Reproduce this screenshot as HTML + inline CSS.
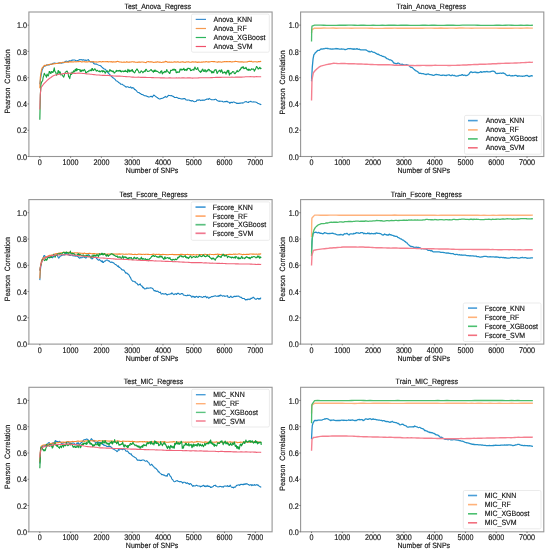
<!DOCTYPE html>
<html><head><meta charset="utf-8"><title>Regress</title>
<style>html,body{margin:0;padding:0;background:#fff;}svg{display:block;}
svg text{font-family:'Liberation Sans', Arial, sans-serif;font-size:7px;fill:#111111;stroke:#111111;stroke-width:0.14px;text-rendering:geometricPrecision;}
svg text.tk{font-size:7.2px;}</style></head>
<body>
<svg width="550" height="553" viewBox="0 0 550 553">
<rect width="550" height="553" fill="#fff"/>
<g><path d="M39.83,84.25 L39.86,84.02 L39.92,83.56 L40.01,82.87 L40.14,81.95 L40.29,80.80 L40.60,78.50 L41.37,73.82 L42.14,69.93 L42.91,68.18 L43.68,66.22 L44.45,66.20 L45.22,65.91 L45.99,65.65 L46.76,64.82 L47.52,64.99 L48.29,64.78 L49.06,64.91 L49.83,64.62 L50.60,64.19 L51.37,64.48 L52.14,63.81 L52.91,63.40 L53.68,63.23 L54.45,62.93 L55.22,63.28 L55.99,63.26 L56.76,63.51 L57.53,63.39 L58.30,62.98 L59.07,63.10 L59.84,63.04 L60.61,63.07 L61.38,63.10 L62.15,63.03 L62.92,62.69 L63.69,62.82 L64.46,62.37 L65.23,61.48 L66.00,61.16 L66.77,61.25 L67.53,61.53 L68.30,61.64 L69.07,60.76 L69.84,60.72 L70.61,60.91 L71.38,60.77 L72.15,59.94 L72.92,60.09 L73.69,59.99 L74.46,60.02 L75.23,60.27 L76.00,60.72 L76.77,60.73 L77.54,60.66 L78.31,60.30 L79.08,59.94 L79.85,59.63 L80.62,59.75 L81.39,59.62 L82.16,60.16 L82.93,59.80 L83.70,59.84 L84.47,60.18 L85.24,60.15 L86.01,60.35 L86.78,60.16 L87.55,59.94 L88.31,59.58 L89.08,60.72 L89.85,61.59 L90.62,61.90 L91.39,61.91 L92.16,61.70 L92.93,62.14 L93.70,63.47 L94.47,63.91 L95.24,63.94 L96.01,64.13 L96.78,64.15 L97.55,64.63 L98.32,65.04 L99.09,65.27 L99.86,65.43 L100.63,65.82 L101.40,66.52 L102.17,67.51 L102.94,68.01 L103.71,68.66 L104.48,68.94 L105.25,69.32 L106.02,70.23 L106.79,71.33 L107.56,72.43 L108.32,73.03 L109.09,73.81 L109.86,74.75 L110.63,75.49 L111.40,76.48 L112.17,76.90 L112.94,77.85 L113.71,78.12 L114.48,78.84 L115.25,79.50 L116.02,80.70 L116.79,81.09 L117.56,81.30 L118.33,82.22 L119.10,82.75 L119.87,83.15 L120.64,84.10 L121.41,84.22 L122.18,84.22 L122.95,84.98 L123.72,85.18 L124.49,86.06 L125.26,86.33 L126.03,87.17 L126.80,86.74 L127.57,86.78 L128.33,87.04 L129.10,87.59 L129.87,87.27 L130.64,86.87 L131.41,88.09 L132.18,87.86 L132.95,87.63 L133.72,88.13 L134.49,89.37 L135.26,89.63 L136.03,90.38 L136.80,91.22 L137.57,92.22 L138.34,92.42 L139.11,92.63 L139.88,93.46 L140.65,93.62 L141.42,94.46 L142.19,94.44 L142.96,94.82 L143.73,95.28 L144.50,95.69 L145.27,95.73 L146.04,95.91 L146.81,96.15 L147.58,96.54 L148.35,96.91 L149.11,97.06 L149.88,96.82 L150.65,96.41 L151.42,96.41 L152.19,97.12 L152.96,96.22 L153.73,95.08 L154.50,95.51 L155.27,96.15 L156.04,96.72 L156.81,97.24 L157.58,97.67 L158.35,98.52 L159.12,98.85 L159.89,99.02 L160.66,98.65 L161.43,98.57 L162.20,98.20 L162.97,98.16 L163.74,97.52 L164.51,97.29 L165.28,96.32 L166.05,97.10 L166.82,97.11 L167.59,96.46 L168.36,95.33 L169.12,95.51 L169.89,95.45 L170.66,95.69 L171.43,95.52 L172.20,96.08 L172.97,96.18 L173.74,96.70 L174.51,97.50 L175.28,97.54 L176.05,97.57 L176.82,97.37 L177.59,97.83 L178.36,98.42 L179.13,98.38 L179.90,98.53 L180.67,98.67 L181.44,98.95 L182.21,98.73 L182.98,98.93 L183.75,98.54 L184.52,98.62 L185.29,98.90 L186.06,100.00 L186.83,99.98 L187.60,100.09 L188.37,100.07 L189.13,100.02 L189.90,100.58 L190.67,100.56 L191.44,101.12 L192.21,100.54 L192.98,101.08 L193.75,101.55 L194.52,101.78 L195.29,101.58 L196.06,101.47 L196.83,100.16 L197.60,100.04 L198.37,100.27 L199.14,99.75 L199.91,100.08 L200.68,100.59 L201.45,100.19 L202.22,100.05 L202.99,100.38 L203.76,99.95 L204.53,100.17 L205.30,99.77 L206.07,99.58 L206.84,98.97 L207.61,99.01 L208.38,99.46 L209.15,98.35 L209.91,98.94 L210.68,99.25 L211.45,99.67 L212.22,99.81 L212.99,99.76 L213.76,99.76 L214.53,99.62 L215.30,99.12 L216.07,99.51 L216.84,100.22 L217.61,100.73 L218.38,100.93 L219.15,101.50 L219.92,101.00 L220.69,101.18 L221.46,101.27 L222.23,101.26 L223.00,101.80 L223.77,102.02 L224.54,101.63 L225.31,101.42 L226.08,101.70 L226.85,101.09 L227.62,101.87 L228.39,102.09 L229.16,102.23 L229.92,103.33 L230.69,102.36 L231.46,102.29 L232.23,102.80 L233.00,102.02 L233.77,102.06 L234.54,102.17 L235.31,102.67 L236.08,102.79 L236.85,103.51 L237.62,103.17 L238.39,103.40 L239.16,103.40 L239.93,103.04 L240.70,103.15 L241.47,103.04 L242.24,102.88 L243.01,103.10 L243.78,102.61 L244.55,101.95 L245.32,101.73 L246.09,101.48 L246.86,101.91 L247.63,102.16 L248.40,102.50 L249.17,101.68 L249.93,101.69 L250.70,101.24 L251.47,101.77 L252.24,102.04 L253.01,102.06 L253.78,101.79 L254.55,101.95 L255.32,102.04 L256.09,102.20 L256.86,102.49 L257.63,103.29 L258.40,103.49 L259.17,103.83 L259.94,104.11 L260.71,104.37 L261.17,104.94" fill="none" stroke="#1a82c2" stroke-width="1.1" stroke-linejoin="round" stroke-linecap="butt"/><path d="M39.83,88.19 L39.86,87.49 L39.92,86.09 L40.01,83.99 L40.14,81.18 L40.29,77.68 L40.60,75.26 L41.37,70.73 L42.14,67.89 L42.91,67.23 L43.68,66.29 L44.45,65.38 L45.22,65.36 L45.99,65.46 L46.76,65.11 L47.52,65.04 L48.29,64.80 L49.06,64.35 L49.83,64.45 L50.60,64.30 L51.37,64.31 L52.14,64.12 L52.91,63.88 L53.68,63.92 L54.45,63.76 L55.22,63.59 L55.99,63.52 L56.76,63.55 L57.53,63.57 L58.30,63.30 L59.07,63.13 L59.84,62.55 L60.61,63.06 L61.38,62.81 L62.15,62.59 L62.92,62.25 L63.69,62.19 L64.46,62.36 L65.23,62.29 L66.00,62.13 L66.77,62.18 L67.53,61.98 L68.30,62.34 L69.07,61.85 L69.84,61.65 L70.61,61.86 L71.38,61.78 L72.15,61.83 L72.92,62.00 L73.69,61.91 L74.46,61.68 L75.23,61.80 L76.00,61.85 L76.77,61.81 L77.54,61.68 L78.31,61.45 L79.08,61.67 L79.85,61.56 L80.62,61.57 L81.39,61.96 L82.16,61.89 L82.93,61.81 L83.70,61.75 L84.47,61.66 L85.24,62.05 L86.01,61.86 L86.78,61.91 L87.55,62.07 L88.31,61.79 L89.08,61.62 L89.85,61.79 L90.62,61.60 L91.39,61.74 L92.16,61.72 L92.93,61.93 L93.70,61.55 L94.47,62.13 L95.24,61.96 L96.01,61.73 L96.78,62.12 L97.55,61.98 L98.32,61.89 L99.09,61.68 L99.86,61.51 L100.63,61.72 L101.40,62.01 L102.17,61.65 L102.94,61.51 L103.71,61.75 L104.48,61.72 L105.25,61.70 L106.02,61.66 L106.79,61.71 L107.56,61.52 L108.32,62.00 L109.09,61.74 L109.86,61.73 L110.63,61.84 L111.40,61.65 L112.17,62.19 L112.94,61.83 L113.71,61.79 L114.48,62.06 L115.25,61.90 L116.02,61.97 L116.79,61.48 L117.56,61.37 L118.33,61.57 L119.10,61.89 L119.87,62.03 L120.64,62.05 L121.41,62.11 L122.18,62.20 L122.95,62.20 L123.72,62.14 L124.49,62.16 L125.26,62.21 L126.03,62.27 L126.80,61.68 L127.57,62.12 L128.33,62.26 L129.10,62.06 L129.87,62.11 L130.64,62.00 L131.41,61.88 L132.18,61.74 L132.95,61.76 L133.72,62.09 L134.49,61.87 L135.26,62.29 L136.03,62.20 L136.80,62.23 L137.57,62.34 L138.34,62.10 L139.11,62.13 L139.88,61.92 L140.65,62.27 L141.42,62.03 L142.19,61.97 L142.96,62.01 L143.73,62.32 L144.50,62.26 L145.27,62.46 L146.04,62.67 L146.81,61.79 L147.58,61.78 L148.35,61.62 L149.11,61.95 L149.88,61.91 L150.65,61.90 L151.42,61.91 L152.19,62.02 L152.96,62.12 L153.73,62.51 L154.50,62.22 L155.27,62.11 L156.04,61.93 L156.81,62.09 L157.58,61.81 L158.35,62.07 L159.12,62.35 L159.89,62.09 L160.66,62.22 L161.43,62.43 L162.20,62.28 L162.97,62.09 L163.74,62.09 L164.51,62.04 L165.28,61.36 L166.05,61.61 L166.82,61.61 L167.59,62.24 L168.36,62.13 L169.12,62.00 L169.89,62.14 L170.66,62.30 L171.43,62.15 L172.20,62.20 L172.97,62.28 L173.74,61.99 L174.51,61.82 L175.28,61.92 L176.05,62.10 L176.82,62.02 L177.59,61.91 L178.36,61.90 L179.13,62.27 L179.90,62.25 L180.67,62.11 L181.44,61.99 L182.21,61.87 L182.98,61.84 L183.75,62.17 L184.52,62.26 L185.29,62.39 L186.06,61.91 L186.83,61.96 L187.60,61.91 L188.37,61.80 L189.13,61.99 L189.90,62.24 L190.67,62.23 L191.44,62.17 L192.21,61.84 L192.98,61.79 L193.75,62.11 L194.52,61.95 L195.29,61.85 L196.06,62.12 L196.83,62.08 L197.60,62.37 L198.37,62.12 L199.14,62.10 L199.91,62.28 L200.68,62.24 L201.45,62.05 L202.22,62.09 L202.99,61.95 L203.76,61.83 L204.53,62.02 L205.30,62.01 L206.07,61.56 L206.84,61.69 L207.61,61.93 L208.38,61.88 L209.15,62.11 L209.91,61.76 L210.68,61.73 L211.45,61.57 L212.22,61.52 L212.99,61.59 L213.76,61.51 L214.53,61.61 L215.30,61.81 L216.07,61.97 L216.84,61.94 L217.61,62.29 L218.38,61.68 L219.15,62.01 L219.92,61.87 L220.69,62.02 L221.46,62.22 L222.23,61.96 L223.00,61.87 L223.77,61.79 L224.54,61.62 L225.31,61.75 L226.08,61.63 L226.85,61.55 L227.62,61.66 L228.39,61.71 L229.16,61.59 L229.92,61.61 L230.69,61.60 L231.46,62.06 L232.23,61.85 L233.00,61.68 L233.77,61.69 L234.54,61.61 L235.31,61.29 L236.08,61.46 L236.85,61.43 L237.62,61.70 L238.39,61.83 L239.16,61.83 L239.93,61.93 L240.70,61.79 L241.47,61.89 L242.24,61.81 L243.01,61.99 L243.78,62.12 L244.55,62.01 L245.32,62.03 L246.09,61.96 L246.86,61.92 L247.63,61.85 L248.40,61.56 L249.17,61.36 L249.93,61.38 L250.70,61.58 L251.47,61.35 L252.24,61.78 L253.01,62.09 L253.78,61.82 L254.55,61.74 L255.32,61.72 L256.09,61.68 L256.86,61.97 L257.63,62.02 L258.40,61.61 L259.17,61.45 L259.94,61.68 L260.71,61.32 L261.17,61.68" fill="none" stroke="#f5862c" stroke-width="1.1" stroke-linejoin="round" stroke-linecap="butt"/><path d="M39.83,119.72 L39.86,118.30 L39.92,115.46 L40.01,111.21 L40.14,105.53 L40.29,98.44 L40.38,94.18 L40.94,84.59 L41.49,82.43 L42.05,81.20 L42.60,81.03 L43.15,77.40 L43.71,75.66 L44.26,73.33 L44.82,74.38 L45.37,75.34 L45.92,75.79 L46.48,77.27 L47.03,74.02 L47.59,75.27 L48.14,75.96 L48.69,74.71 L49.25,71.45 L49.80,71.52 L50.36,73.28 L50.91,73.55 L51.47,71.57 L52.02,71.60 L52.57,72.53 L53.13,72.18 L53.68,70.52 L54.24,67.83 L54.79,71.20 L55.34,71.94 L55.90,72.52 L56.45,75.16 L57.01,74.23 L57.56,73.87 L58.11,70.47 L58.67,70.88 L59.22,73.54 L59.78,71.69 L60.33,72.43 L60.89,75.03 L61.44,74.79 L61.99,74.70 L62.55,75.19 L63.10,76.45 L63.66,77.18 L64.21,75.85 L64.76,73.40 L65.32,72.51 L65.87,71.80 L66.43,71.53 L66.98,70.96 L67.53,71.85 L68.09,73.50 L68.64,76.94 L69.20,76.82 L69.75,78.72 L70.31,75.30 L70.86,73.18 L71.41,74.41 L71.97,72.12 L72.52,73.64 L73.08,72.23 L73.63,70.82 L74.18,71.91 L74.74,71.06 L75.29,69.24 L75.85,71.01 L76.40,68.64 L76.96,70.63 L77.51,69.10 L78.06,69.49 L78.62,69.49 L79.17,69.50 L79.73,69.85 L80.28,71.50 L80.83,69.77 L81.39,71.39 L81.94,70.72 L82.50,70.03 L83.05,70.99 L83.60,70.57 L84.16,69.42 L84.71,69.92 L85.27,70.95 L85.82,73.30 L86.38,72.70 L86.93,72.04 L87.48,71.64 L88.04,71.83 L88.59,70.70 L89.15,70.99 L89.70,70.71 L90.25,69.84 L90.81,70.79 L91.36,70.75 L91.92,68.49 L92.47,68.52 L93.02,70.49 L93.58,70.37 L94.13,69.71 L94.69,68.76 L95.24,69.27 L95.80,70.30 L96.35,71.08 L96.90,70.29 L97.46,70.28 L98.01,71.10 L98.57,71.29 L99.12,71.67 L99.67,70.90 L100.23,71.88 L100.78,71.37 L101.34,70.86 L101.89,70.83 L102.44,71.97 L103.00,70.53 L103.55,71.62 L104.11,71.14 L104.66,71.93 L105.22,73.21 L105.77,72.02 L106.32,71.34 L106.88,71.30 L107.43,70.93 L107.99,71.62 L108.54,72.06 L109.09,71.77 L109.65,69.74 L110.20,69.73 L110.76,70.95 L111.31,70.58 L111.87,71.35 L112.42,71.73 L112.97,70.72 L113.53,71.49 L114.08,72.93 L114.64,72.95 L115.19,72.07 L115.74,71.60 L116.30,70.36 L116.85,71.52 L117.41,70.76 L117.96,70.65 L118.51,71.11 L119.07,70.43 L119.62,70.40 L120.18,71.61 L120.73,70.44 L121.29,71.93 L121.84,71.50 L122.39,71.33 L122.95,70.85 L123.50,71.65 L124.06,71.41 L124.61,71.38 L125.16,70.32 L125.72,71.41 L126.27,71.16 L126.83,71.32 L127.38,72.34 L127.93,69.22 L128.49,70.16 L129.04,71.90 L129.60,70.13 L130.15,71.49 L130.71,70.85 L131.26,70.07 L131.81,71.05 L132.37,69.53 L132.92,71.60 L133.48,71.36 L134.03,72.60 L134.58,72.88 L135.14,72.02 L135.69,70.53 L136.25,70.15 L136.80,68.97 L137.35,69.33 L137.91,70.61 L138.46,70.90 L139.02,72.79 L139.57,72.76 L140.13,72.81 L140.68,71.66 L141.23,70.75 L141.79,71.40 L142.34,71.75 L142.90,72.80 L143.45,72.04 L144.00,71.33 L144.56,70.79 L145.11,71.65 L145.67,69.56 L146.22,69.24 L146.78,70.26 L147.33,71.17 L147.88,71.47 L148.44,71.23 L148.99,71.29 L149.55,70.90 L150.10,70.47 L150.65,69.74 L151.21,69.61 L151.76,70.71 L152.32,70.84 L152.87,71.64 L153.42,72.25 L153.98,70.32 L154.53,71.53 L155.09,69.94 L155.64,71.31 L156.20,71.47 L156.75,70.82 L157.30,71.49 L157.86,71.52 L158.41,72.15 L158.97,72.70 L159.52,72.72 L160.07,73.19 L160.63,71.32 L161.18,72.03 L161.74,70.66 L162.29,73.99 L162.84,73.19 L163.40,72.30 L163.95,72.63 L164.51,71.53 L165.06,71.40 L165.62,72.16 L166.17,71.90 L166.72,69.60 L167.28,70.79 L167.83,71.33 L168.39,72.28 L168.94,72.23 L169.49,73.46 L170.05,73.04 L170.60,70.38 L171.16,70.29 L171.71,70.59 L172.26,70.30 L172.82,69.41 L173.37,70.10 L173.93,69.08 L174.48,69.44 L175.04,70.42 L175.59,69.46 L176.14,72.66 L176.70,72.60 L177.25,71.78 L177.81,72.41 L178.36,72.00 L178.91,72.15 L179.47,72.18 L180.02,69.07 L180.58,69.36 L181.13,70.06 L181.69,69.11 L182.24,69.99 L182.79,69.34 L183.35,69.45 L183.90,68.28 L184.46,70.41 L185.01,69.43 L185.56,69.46 L186.12,70.59 L186.67,69.07 L187.23,70.01 L187.78,68.20 L188.33,68.37 L188.89,68.31 L189.44,68.85 L190.00,68.38 L190.55,70.69 L191.11,70.09 L191.66,70.44 L192.21,69.80 L192.77,69.80 L193.32,69.21 L193.88,70.25 L194.43,68.35 L194.98,66.98 L195.54,68.61 L196.09,69.26 L196.65,69.33 L197.20,68.49 L197.75,67.51 L198.31,69.85 L198.86,70.51 L199.42,71.25 L199.97,71.69 L200.53,72.39 L201.08,70.93 L201.63,71.60 L202.19,69.52 L202.74,69.04 L203.30,70.57 L203.85,71.35 L204.40,71.37 L204.96,69.56 L205.51,70.72 L206.07,71.89 L206.62,71.18 L207.17,70.45 L207.73,71.03 L208.28,69.26 L208.84,69.65 L209.39,69.67 L209.95,70.90 L210.50,70.80 L211.05,70.87 L211.61,72.86 L212.16,71.55 L212.72,72.81 L213.27,71.86 L213.82,72.72 L214.38,70.00 L214.93,70.20 L215.49,69.84 L216.04,69.63 L216.59,71.59 L217.15,73.47 L217.70,72.65 L218.26,71.15 L218.81,71.16 L219.37,70.55 L219.92,70.14 L220.47,72.16 L221.03,71.58 L221.58,69.78 L222.14,71.22 L222.69,73.29 L223.24,72.71 L223.80,72.65 L224.35,71.85 L224.91,72.68 L225.46,72.26 L226.02,74.18 L226.57,72.39 L227.12,70.87 L227.68,70.42 L228.23,72.79 L228.79,70.34 L229.34,75.17 L229.89,73.66 L230.45,73.25 L231.00,73.84 L231.56,72.83 L232.11,72.47 L232.66,71.51 L233.22,71.72 L233.77,71.68 L234.33,73.60 L234.88,73.80 L235.44,73.22 L235.99,72.19 L236.54,71.90 L237.10,70.33 L237.65,71.66 L238.21,71.71 L238.76,70.95 L239.31,70.69 L239.87,69.63 L240.42,69.82 L240.98,67.84 L241.53,68.18 L242.08,67.08 L242.64,67.70 L243.19,66.63 L243.75,68.73 L244.30,68.05 L244.86,68.58 L245.41,68.25 L245.96,67.21 L246.52,68.83 L247.07,69.81 L247.63,70.01 L248.18,68.98 L248.73,70.42 L249.29,69.34 L249.84,70.07 L250.40,70.31 L250.95,69.74 L251.50,68.77 L252.06,69.22 L252.61,69.32 L253.17,68.97 L253.72,69.02 L254.28,71.23 L254.83,70.30 L255.38,69.38 L255.94,68.00 L256.49,66.46 L257.05,66.95 L257.60,67.74 L258.15,69.09 L258.71,68.81 L259.26,68.05 L259.82,67.24 L260.37,68.79 L260.93,68.56 L261.17,67.92" fill="none" stroke="#14a03c" stroke-width="1.1" stroke-linejoin="round" stroke-linecap="butt"/><path d="M39.83,109.47 L39.86,108.26 L39.92,105.85 L40.01,102.22 L40.14,97.39 L40.29,94.32 L41.06,87.68 L42.29,85.93 L43.52,84.24 L44.75,82.89 L45.99,81.58 L47.22,80.36 L48.45,79.23 L49.68,78.30 L50.91,77.47 L52.14,76.50 L53.37,75.79 L54.61,75.33 L55.84,74.99 L57.07,74.69 L58.30,74.45 L59.53,74.13 L60.76,73.99 L61.99,73.95 L63.23,73.63 L64.46,73.54 L65.69,73.34 L66.92,73.37 L68.15,73.14 L69.38,73.25 L70.61,73.28 L71.84,73.21 L73.08,73.21 L74.31,73.37 L75.54,73.37 L76.77,73.24 L78.00,73.08 L79.23,73.09 L80.46,73.17 L81.70,73.19 L82.93,73.45 L84.16,73.53 L85.39,73.77 L86.62,73.87 L87.85,73.99 L89.08,74.06 L90.32,74.24 L91.55,74.30 L92.78,74.49 L94.01,74.58 L95.24,74.70 L96.47,74.95 L97.70,74.98 L98.94,75.03 L100.17,75.15 L101.40,75.19 L102.63,75.35 L103.86,75.33 L105.09,75.37 L106.32,75.43 L107.56,75.36 L108.79,75.50 L110.02,75.63 L111.25,75.79 L112.48,75.83 L113.71,75.98 L114.94,75.94 L116.17,76.08 L117.41,76.14 L118.64,76.08 L119.87,76.14 L121.10,76.27 L122.33,76.30 L123.56,76.44 L124.79,76.50 L126.03,76.61 L127.26,76.77 L128.49,76.79 L129.72,76.81 L130.95,76.94 L132.18,77.09 L133.41,77.13 L134.65,77.30 L135.88,77.28 L137.11,77.32 L138.34,77.14 L139.57,77.25 L140.80,77.39 L142.03,77.31 L143.27,77.37 L144.50,77.39 L145.73,77.42 L146.96,77.45 L148.19,77.52 L149.42,77.48 L150.65,77.51 L151.89,77.62 L153.12,77.66 L154.35,77.76 L155.58,77.74 L156.81,77.72 L158.04,77.73 L159.27,77.76 L160.51,77.84 L161.74,77.79 L162.97,77.90 L164.20,77.92 L165.43,77.95 L166.66,77.94 L167.89,77.96 L169.12,77.81 L170.36,77.85 L171.59,78.01 L172.82,78.01 L174.05,78.07 L175.28,77.95 L176.51,77.85 L177.74,77.93 L178.98,77.90 L180.21,77.93 L181.44,77.91 L182.67,77.81 L183.90,77.90 L185.13,78.01 L186.36,77.93 L187.60,77.90 L188.83,77.88 L190.06,77.84 L191.29,77.94 L192.52,78.08 L193.75,77.94 L194.98,77.94 L196.22,77.99 L197.45,77.99 L198.68,77.83 L199.91,77.79 L201.14,77.76 L202.37,77.69 L203.60,77.74 L204.84,77.79 L206.07,77.78 L207.30,77.78 L208.53,77.71 L209.76,77.70 L210.99,77.63 L212.22,77.61 L213.45,77.56 L214.69,77.47 L215.92,77.36 L217.15,77.28 L218.38,77.33 L219.61,77.33 L220.84,77.37 L222.07,77.27 L223.31,77.18 L224.54,77.26 L225.77,77.20 L227.00,77.23 L228.23,77.23 L229.46,77.19 L230.69,77.20 L231.93,77.11 L233.16,77.21 L234.39,77.20 L235.62,77.14 L236.85,77.16 L238.08,77.07 L239.31,77.14 L240.55,77.05 L241.78,77.10 L243.01,77.03 L244.24,76.94 L245.47,76.76 L246.70,76.74 L247.93,76.68 L249.17,76.75 L250.40,76.63 L251.63,76.72 L252.86,76.76 L254.09,76.83 L255.32,76.76 L256.55,76.65 L257.79,76.70 L259.02,76.70 L260.25,76.70 L261.17,76.68" fill="none" stroke="#f0647a" stroke-width="1.1" stroke-linejoin="round" stroke-linecap="butt"/><rect x="191.5" y="14.1" width="77.80" height="38.10" rx="1.5" fill="#fff" fill-opacity="0.85" stroke="#e6e6e6" stroke-width="0.8"/><line x1="195.7" y1="19.4" x2="206.0" y2="19.4" stroke="#3d8fd0" stroke-width="1.2"/><text transform="translate(213.60,21.90) scale(1,1.1)">Anova_KNN</text><line x1="195.7" y1="28.5" x2="206.0" y2="28.5" stroke="#f59a50" stroke-width="1.2"/><text transform="translate(213.60,31.00) scale(1,1.1)">Anova_RF</text><line x1="195.7" y1="37.5" x2="206.0" y2="37.5" stroke="#2db55d" stroke-width="1.2"/><text transform="translate(213.60,40.00) scale(1,1.1)">Anova_XGBoost</text><line x1="195.7" y1="46.5" x2="206.0" y2="46.5" stroke="#f0506a" stroke-width="1.2"/><text transform="translate(213.60,49.00) scale(1,1.1)">Anova_SVM</text><rect x="28.9" y="12.0" width="243.20" height="144.50" fill="none" stroke="#969696" stroke-width="1.1"/><line x1="27.60" y1="156.50" x2="28.9" y2="156.50" stroke="#555" stroke-width="0.8"/><text transform="translate(27.10,159.60) scale(1,1.14)" text-anchor="end" class="tk">0.0</text><line x1="27.60" y1="130.23" x2="28.9" y2="130.23" stroke="#555" stroke-width="0.8"/><text transform="translate(27.10,133.33) scale(1,1.14)" text-anchor="end" class="tk">0.2</text><line x1="27.60" y1="103.95" x2="28.9" y2="103.95" stroke="#555" stroke-width="0.8"/><text transform="translate(27.10,107.05) scale(1,1.14)" text-anchor="end" class="tk">0.4</text><line x1="27.60" y1="77.68" x2="28.9" y2="77.68" stroke="#555" stroke-width="0.8"/><text transform="translate(27.10,80.78) scale(1,1.14)" text-anchor="end" class="tk">0.6</text><line x1="27.60" y1="51.41" x2="28.9" y2="51.41" stroke="#555" stroke-width="0.8"/><text transform="translate(27.10,54.51) scale(1,1.14)" text-anchor="end" class="tk">0.8</text><line x1="27.60" y1="25.14" x2="28.9" y2="25.14" stroke="#555" stroke-width="0.8"/><text transform="translate(27.10,28.24) scale(1,1.14)" text-anchor="end" class="tk">1.0</text><line x1="39.83" y1="156.5" x2="39.83" y2="157.80" stroke="#555" stroke-width="0.8"/><text transform="translate(39.83,165.20) scale(1,1.14)" text-anchor="middle" class="tk">0</text><line x1="70.61" y1="156.5" x2="70.61" y2="157.80" stroke="#555" stroke-width="0.8"/><text transform="translate(70.61,165.20) scale(1,1.14)" text-anchor="middle" class="tk">1000</text><line x1="101.40" y1="156.5" x2="101.40" y2="157.80" stroke="#555" stroke-width="0.8"/><text transform="translate(101.40,165.20) scale(1,1.14)" text-anchor="middle" class="tk">2000</text><line x1="132.18" y1="156.5" x2="132.18" y2="157.80" stroke="#555" stroke-width="0.8"/><text transform="translate(132.18,165.20) scale(1,1.14)" text-anchor="middle" class="tk">3000</text><line x1="162.97" y1="156.5" x2="162.97" y2="157.80" stroke="#555" stroke-width="0.8"/><text transform="translate(162.97,165.20) scale(1,1.14)" text-anchor="middle" class="tk">4000</text><line x1="193.75" y1="156.5" x2="193.75" y2="157.80" stroke="#555" stroke-width="0.8"/><text transform="translate(193.75,165.20) scale(1,1.14)" text-anchor="middle" class="tk">5000</text><line x1="224.54" y1="156.5" x2="224.54" y2="157.80" stroke="#555" stroke-width="0.8"/><text transform="translate(224.54,165.20) scale(1,1.14)" text-anchor="middle" class="tk">6000</text><line x1="255.32" y1="156.5" x2="255.32" y2="157.80" stroke="#555" stroke-width="0.8"/><text transform="translate(255.32,165.20) scale(1,1.14)" text-anchor="middle" class="tk">7000</text><text transform="translate(157.70,9.00) scale(1,1.1)" text-anchor="middle">Test_Anova_Regress</text><text transform="translate(152.10,173.10) scale(1,1.1)" text-anchor="middle">Number of SNPs</text><text transform="translate(10.20,81.50) rotate(-90) scale(1,1.1)" text-anchor="middle" xml:space="preserve">Pearson  Correlation</text></g>
<g><path d="M311.53,81.36 L311.56,80.79 L311.62,79.65 L311.71,77.94 L311.84,75.67 L311.99,72.82 L312.30,67.13 L313.07,58.82 L313.84,54.97 L314.61,53.88 L315.38,52.66 L316.15,52.05 L316.92,51.20 L317.69,50.47 L318.46,50.38 L319.22,50.39 L319.99,49.81 L320.76,49.10 L321.53,48.99 L322.30,49.08 L323.07,48.74 L323.84,48.90 L324.61,48.71 L325.38,48.34 L326.15,48.33 L326.92,48.48 L327.69,48.39 L328.46,48.71 L329.23,48.80 L330.00,48.97 L330.77,48.98 L331.54,49.06 L332.31,49.02 L333.08,49.05 L333.85,48.95 L334.62,48.90 L335.39,48.81 L336.16,48.45 L336.93,49.03 L337.70,48.64 L338.47,48.80 L339.23,49.21 L340.00,49.20 L340.77,49.12 L341.54,48.80 L342.31,49.18 L343.08,49.09 L343.85,49.05 L344.62,49.52 L345.39,49.71 L346.16,49.34 L346.93,49.06 L347.70,48.75 L348.47,48.69 L349.24,48.68 L350.01,48.76 L350.78,48.50 L351.55,48.90 L352.32,48.99 L353.09,48.89 L353.86,49.38 L354.63,48.91 L355.40,49.18 L356.17,49.16 L356.94,48.63 L357.71,49.15 L358.48,49.46 L359.25,49.13 L360.01,49.68 L360.78,49.92 L361.55,49.86 L362.32,49.87 L363.09,49.87 L363.86,49.98 L364.63,49.81 L365.40,49.83 L366.17,49.99 L366.94,50.51 L367.71,50.91 L368.48,51.59 L369.25,51.38 L370.02,51.99 L370.79,51.69 L371.56,51.26 L372.33,51.81 L373.10,52.14 L373.87,52.37 L374.64,52.44 L375.41,53.08 L376.18,53.44 L376.95,53.92 L377.72,54.30 L378.49,54.25 L379.26,54.96 L380.02,55.26 L380.79,55.50 L381.56,55.61 L382.33,56.39 L383.10,56.37 L383.87,56.65 L384.64,56.83 L385.41,57.28 L386.18,58.18 L386.95,58.64 L387.72,58.78 L388.49,59.28 L389.26,59.81 L390.03,59.81 L390.80,59.86 L391.57,60.67 L392.34,60.84 L393.11,62.17 L393.88,63.16 L394.65,63.15 L395.42,63.57 L396.19,63.74 L396.96,63.59 L397.73,63.12 L398.50,63.21 L399.27,63.49 L400.03,64.23 L400.80,64.33 L401.57,64.48 L402.34,64.19 L403.11,64.73 L403.88,64.80 L404.65,65.00 L405.42,65.07 L406.19,64.64 L406.96,64.73 L407.73,65.04 L408.50,65.40 L409.27,65.76 L410.04,66.66 L410.81,67.25 L411.58,67.31 L412.35,67.70 L413.12,68.39 L413.89,69.15 L414.66,69.74 L415.43,70.70 L416.20,70.82 L416.97,71.23 L417.74,71.73 L418.51,72.64 L419.28,73.26 L420.05,73.25 L420.81,73.32 L421.58,73.64 L422.35,73.63 L423.12,73.56 L423.89,73.89 L424.66,74.07 L425.43,74.30 L426.20,74.55 L426.97,74.19 L427.74,74.02 L428.51,73.96 L429.28,74.36 L430.05,74.61 L430.82,74.70 L431.59,74.94 L432.36,75.01 L433.13,75.37 L433.90,75.30 L434.67,74.98 L435.44,74.68 L436.21,74.44 L436.98,74.71 L437.75,74.65 L438.52,74.97 L439.29,74.83 L440.06,75.09 L440.82,75.30 L441.59,75.49 L442.36,75.24 L443.13,75.18 L443.90,75.16 L444.67,75.48 L445.44,75.32 L446.21,75.64 L446.98,75.03 L447.75,75.04 L448.52,74.94 L449.29,74.93 L450.06,75.37 L450.83,75.67 L451.60,75.51 L452.37,74.98 L453.14,75.36 L453.91,75.52 L454.68,75.46 L455.45,75.89 L456.22,76.20 L456.99,76.07 L457.76,75.89 L458.53,75.87 L459.30,75.33 L460.07,75.44 L460.83,75.32 L461.60,74.89 L462.37,74.55 L463.14,75.24 L463.91,75.37 L464.68,75.03 L465.45,75.50 L466.22,75.69 L466.99,75.48 L467.76,75.07 L468.53,74.53 L469.30,73.60 L470.07,72.46 L470.84,71.87 L471.61,71.96 L472.38,72.56 L473.15,72.44 L473.92,72.42 L474.69,72.21 L475.46,72.18 L476.23,72.63 L477.00,72.30 L477.77,72.77 L478.54,72.69 L479.31,72.35 L480.08,72.09 L480.85,71.56 L481.61,72.29 L482.38,72.03 L483.15,71.75 L483.92,71.82 L484.69,71.60 L485.46,71.92 L486.23,71.64 L487.00,71.48 L487.77,71.78 L488.54,71.89 L489.31,71.83 L490.08,71.91 L490.85,71.48 L491.62,71.47 L492.39,71.18 L493.16,71.03 L493.93,71.26 L494.70,71.51 L495.47,72.80 L496.24,73.48 L497.01,73.58 L497.78,73.31 L498.55,73.46 L499.32,73.28 L500.09,73.11 L500.86,73.18 L501.62,73.34 L502.39,73.04 L503.16,72.84 L503.93,73.43 L504.70,73.73 L505.47,74.04 L506.24,75.01 L507.01,75.45 L507.78,75.66 L508.55,75.44 L509.32,75.14 L510.09,75.55 L510.86,75.77 L511.63,75.86 L512.40,75.64 L513.17,75.81 L513.94,75.72 L514.71,75.50 L515.48,75.36 L516.25,75.46 L517.02,75.87 L517.79,76.38 L518.56,75.93 L519.33,75.78 L520.10,76.06 L520.87,76.11 L521.63,76.12 L522.40,76.45 L523.17,76.13 L523.94,76.17 L524.71,76.05 L525.48,75.66 L526.25,75.61 L527.02,75.37 L527.79,75.75 L528.56,76.39 L529.33,76.58 L530.10,75.96 L530.87,76.06 L531.64,75.59 L532.41,75.94 L532.87,75.73" fill="none" stroke="#2590c8" stroke-width="1.3" stroke-linejoin="round" stroke-linecap="butt"/><path d="M311.53,33.02 L311.56,32.79 L311.62,32.35 L311.71,31.68 L311.84,30.79 L311.99,29.67 L314.61,28.20 L317.69,28.19 L320.76,28.22 L323.84,28.02 L326.92,28.13 L330.00,28.11 L333.08,28.07 L336.16,28.18 L339.23,28.09 L342.31,28.13 L345.39,28.09 L348.47,28.17 L351.55,28.22 L354.63,28.12 L357.71,28.11 L360.78,28.13 L363.86,28.11 L366.94,28.10 L370.02,28.20 L373.10,28.30 L376.18,28.33 L379.26,28.34 L382.33,28.38 L385.41,28.30 L388.49,28.26 L391.57,28.21 L394.65,28.17 L397.73,28.19 L400.80,28.19 L403.88,28.17 L406.96,28.22 L410.04,28.23 L413.12,28.19 L416.20,28.21 L419.28,28.22 L422.35,28.19 L425.43,28.10 L428.51,28.11 L431.59,28.15 L434.67,28.19 L437.75,28.18 L440.82,28.04 L443.90,28.28 L446.98,28.19 L450.06,28.16 L453.14,28.11 L456.22,28.20 L459.30,28.06 L462.37,28.05 L465.45,28.11 L468.53,28.12 L471.61,28.18 L474.69,28.17 L477.77,28.17 L480.85,28.11 L483.92,28.11 L487.00,28.14 L490.08,28.11 L493.16,28.10 L496.24,28.12 L499.32,28.22 L502.39,28.13 L505.47,28.21 L508.55,28.24 L511.63,28.21 L514.71,28.15 L517.79,28.08 L520.87,28.21 L523.94,28.10 L527.02,28.04 L530.10,28.12 L532.87,28.15" fill="none" stroke="#ffb27c" stroke-width="1.4" stroke-linejoin="round" stroke-linecap="butt"/><path d="M311.53,41.56 L311.56,39.59 L311.62,35.65 L311.71,29.73 L311.84,28.10 L311.99,26.06 L314.61,25.18 L317.69,25.18 L320.76,25.16 L323.84,25.26 L326.92,25.30 L330.00,25.34 L333.08,25.28 L336.16,25.28 L339.23,25.23 L342.31,25.24 L345.39,25.25 L348.47,25.16 L351.55,25.19 L354.63,25.23 L357.71,25.29 L360.78,25.23 L363.86,25.20 L366.94,25.29 L370.02,25.28 L373.10,25.26 L376.18,25.34 L379.26,25.32 L382.33,25.23 L385.41,25.32 L388.49,25.27 L391.57,25.18 L394.65,25.25 L397.73,25.28 L400.80,25.26 L403.88,25.24 L406.96,25.24 L410.04,25.32 L413.12,25.33 L416.20,25.29 L419.28,25.30 L422.35,25.23 L425.43,25.26 L428.51,25.28 L431.59,25.19 L434.67,25.23 L437.75,25.29 L440.82,25.28 L443.90,25.29 L446.98,25.24 L450.06,25.24 L453.14,25.27 L456.22,25.28 L459.30,25.30 L462.37,25.22 L465.45,25.15 L468.53,25.21 L471.61,25.21 L474.69,25.22 L477.77,25.27 L480.85,25.29 L483.92,25.30 L487.00,25.37 L490.08,25.35 L493.16,25.29 L496.24,25.24 L499.32,25.26 L502.39,25.28 L505.47,25.25 L508.55,25.16 L511.63,25.26 L514.71,25.30 L517.79,25.30 L520.87,25.26 L523.94,25.30 L527.02,25.26 L530.10,25.30 L532.87,25.26" fill="none" stroke="#49bc6a" stroke-width="1.3" stroke-linejoin="round" stroke-linecap="butt"/><path d="M311.53,100.41 L311.56,99.02 L311.62,96.23 L311.71,92.05 L311.84,86.48 L311.99,79.52 L313.38,72.71 L315.22,70.55 L317.07,68.71 L318.92,67.22 L320.76,66.10 L322.61,65.59 L324.46,65.14 L326.31,64.61 L328.15,64.30 L330.00,63.94 L331.85,63.59 L333.69,63.29 L335.54,63.38 L337.39,63.54 L339.23,63.60 L341.08,63.53 L342.93,63.51 L344.78,63.50 L346.62,63.62 L348.47,63.72 L350.32,63.68 L352.16,63.69 L354.01,63.78 L355.86,63.86 L357.71,64.01 L359.55,64.05 L361.40,64.02 L363.25,64.16 L365.09,64.24 L366.94,64.29 L368.79,64.36 L370.64,64.51 L372.48,64.54 L374.33,64.60 L376.18,64.63 L378.02,64.68 L379.87,64.71 L381.72,64.80 L383.57,64.72 L385.41,64.82 L387.26,64.80 L389.11,64.81 L390.95,64.92 L392.80,65.07 L394.65,65.23 L396.49,65.30 L398.34,65.29 L400.19,65.29 L402.04,65.36 L403.88,65.41 L405.73,65.28 L407.58,65.38 L409.42,65.49 L411.27,65.44 L413.12,65.50 L414.97,65.61 L416.81,65.51 L418.66,65.52 L420.51,65.47 L422.35,65.34 L424.20,65.38 L426.05,65.44 L427.90,65.33 L429.74,65.49 L431.59,65.51 L433.44,65.37 L435.28,65.29 L437.13,65.35 L438.98,65.41 L440.82,65.37 L442.67,65.36 L444.52,65.35 L446.37,65.38 L448.21,65.45 L450.06,65.44 L451.91,65.42 L453.75,65.40 L455.60,65.39 L457.45,65.29 L459.30,65.29 L461.14,65.11 L462.99,64.95 L464.84,64.94 L466.68,64.95 L468.53,64.82 L470.38,64.70 L472.23,64.64 L474.07,64.51 L475.92,64.50 L477.77,64.48 L479.61,64.29 L481.46,64.27 L483.31,64.22 L485.15,64.26 L487.00,64.13 L488.85,64.05 L490.70,63.93 L492.54,63.80 L494.39,63.72 L496.24,63.72 L498.08,63.56 L499.93,63.48 L501.78,63.39 L503.63,63.35 L505.47,63.28 L507.32,63.29 L509.17,63.27 L511.01,63.17 L512.86,63.08 L514.71,62.95 L516.56,63.05 L518.40,62.91 L520.25,62.81 L522.10,62.62 L523.94,62.58 L525.79,62.52 L527.64,62.42 L529.49,62.31 L531.33,62.36 L532.87,62.32" fill="none" stroke="#f58090" stroke-width="1.4" stroke-linejoin="round" stroke-linecap="butt"/><rect x="464.5" y="115.4" width="76.90" height="38.80" rx="1.5" fill="#fff" fill-opacity="0.85" stroke="#e6e6e6" stroke-width="0.8"/><line x1="468.0" y1="120.6" x2="477.7" y2="120.6" stroke="#4a9ed8" stroke-width="1.6"/><text transform="translate(485.70,123.10) scale(1,1.1)">Anova_KNN</text><line x1="468.0" y1="129.9" x2="477.7" y2="129.9" stroke="#ffb27a" stroke-width="1.6"/><text transform="translate(485.70,132.40) scale(1,1.1)">Anova_RF</text><line x1="468.0" y1="138.9" x2="477.7" y2="138.9" stroke="#4cc070" stroke-width="1.6"/><text transform="translate(485.70,141.40) scale(1,1.1)">Anova_XGBoost</text><line x1="468.0" y1="147.8" x2="477.7" y2="147.8" stroke="#f2707f" stroke-width="1.6"/><text transform="translate(485.70,150.30) scale(1,1.1)">Anova_SVM</text><rect x="300.6" y="12.0" width="243.20" height="144.50" fill="none" stroke="#969696" stroke-width="1.1"/><line x1="299.30" y1="156.50" x2="300.6" y2="156.50" stroke="#555" stroke-width="0.8"/><text transform="translate(298.80,159.60) scale(1,1.14)" text-anchor="end" class="tk">0.0</text><line x1="299.30" y1="130.23" x2="300.6" y2="130.23" stroke="#555" stroke-width="0.8"/><text transform="translate(298.80,133.33) scale(1,1.14)" text-anchor="end" class="tk">0.2</text><line x1="299.30" y1="103.95" x2="300.6" y2="103.95" stroke="#555" stroke-width="0.8"/><text transform="translate(298.80,107.05) scale(1,1.14)" text-anchor="end" class="tk">0.4</text><line x1="299.30" y1="77.68" x2="300.6" y2="77.68" stroke="#555" stroke-width="0.8"/><text transform="translate(298.80,80.78) scale(1,1.14)" text-anchor="end" class="tk">0.6</text><line x1="299.30" y1="51.41" x2="300.6" y2="51.41" stroke="#555" stroke-width="0.8"/><text transform="translate(298.80,54.51) scale(1,1.14)" text-anchor="end" class="tk">0.8</text><line x1="299.30" y1="25.14" x2="300.6" y2="25.14" stroke="#555" stroke-width="0.8"/><text transform="translate(298.80,28.24) scale(1,1.14)" text-anchor="end" class="tk">1.0</text><line x1="311.53" y1="156.5" x2="311.53" y2="157.80" stroke="#555" stroke-width="0.8"/><text transform="translate(311.53,165.20) scale(1,1.14)" text-anchor="middle" class="tk">0</text><line x1="342.31" y1="156.5" x2="342.31" y2="157.80" stroke="#555" stroke-width="0.8"/><text transform="translate(342.31,165.20) scale(1,1.14)" text-anchor="middle" class="tk">1000</text><line x1="373.10" y1="156.5" x2="373.10" y2="157.80" stroke="#555" stroke-width="0.8"/><text transform="translate(373.10,165.20) scale(1,1.14)" text-anchor="middle" class="tk">2000</text><line x1="403.88" y1="156.5" x2="403.88" y2="157.80" stroke="#555" stroke-width="0.8"/><text transform="translate(403.88,165.20) scale(1,1.14)" text-anchor="middle" class="tk">3000</text><line x1="434.67" y1="156.5" x2="434.67" y2="157.80" stroke="#555" stroke-width="0.8"/><text transform="translate(434.67,165.20) scale(1,1.14)" text-anchor="middle" class="tk">4000</text><line x1="465.45" y1="156.5" x2="465.45" y2="157.80" stroke="#555" stroke-width="0.8"/><text transform="translate(465.45,165.20) scale(1,1.14)" text-anchor="middle" class="tk">5000</text><line x1="496.24" y1="156.5" x2="496.24" y2="157.80" stroke="#555" stroke-width="0.8"/><text transform="translate(496.24,165.20) scale(1,1.14)" text-anchor="middle" class="tk">6000</text><line x1="527.02" y1="156.5" x2="527.02" y2="157.80" stroke="#555" stroke-width="0.8"/><text transform="translate(527.02,165.20) scale(1,1.14)" text-anchor="middle" class="tk">7000</text><text transform="translate(431.20,9.00) scale(1,1.1)" text-anchor="middle">Train_Anova_Regress</text><text transform="translate(423.80,173.10) scale(1,1.1)" text-anchor="middle">Number of SNPs</text><text transform="translate(285.25,82.45) rotate(-90) scale(1,1.1)" text-anchor="middle" xml:space="preserve">Pearson  Correlation</text></g>
<g><path d="M39.83,280.13 L39.86,279.61 L39.92,278.59 L40.01,277.05 L40.14,275.00 L40.29,272.43 L40.51,268.85 L41.18,263.59 L41.86,260.92 L42.54,259.28 L43.21,258.09 L43.89,255.71 L44.57,255.46 L45.25,256.97 L45.92,257.42 L46.60,257.68 L47.28,257.35 L47.96,256.99 L48.63,257.46 L49.31,256.97 L49.99,257.27 L50.66,257.34 L51.34,257.05 L52.02,257.61 L52.70,257.62 L53.37,256.67 L54.05,255.82 L54.73,255.14 L55.41,255.37 L56.08,255.40 L56.76,255.22 L57.44,255.52 L58.11,257.25 L58.79,258.10 L59.47,257.24 L60.15,256.16 L60.82,256.06 L61.50,255.38 L62.18,255.22 L62.86,255.02 L63.53,254.84 L64.21,254.70 L64.89,254.87 L65.56,253.71 L66.24,253.42 L66.92,253.95 L67.60,254.08 L68.27,254.83 L68.95,254.56 L69.63,255.48 L70.31,255.53 L70.98,255.07 L71.66,254.96 L72.34,254.97 L73.01,255.97 L73.69,255.62 L74.37,256.02 L75.05,255.59 L75.72,256.27 L76.40,255.75 L77.08,256.20 L77.76,256.39 L78.43,257.21 L79.11,257.80 L79.79,258.24 L80.46,257.55 L81.14,257.82 L81.82,257.77 L82.50,257.01 L83.17,256.85 L83.85,257.11 L84.53,256.94 L85.21,257.67 L85.88,258.12 L86.56,257.32 L87.24,255.57 L87.91,255.09 L88.59,254.58 L89.27,255.34 L89.95,256.42 L90.62,256.28 L91.30,257.42 L91.98,259.03 L92.66,258.32 L93.33,257.61 L94.01,257.40 L94.69,256.88 L95.36,257.06 L96.04,257.58 L96.72,258.75 L97.40,259.08 L98.07,259.95 L98.75,260.28 L99.43,259.51 L100.11,260.13 L100.78,260.60 L101.46,261.64 L102.14,260.72 L102.81,262.51 L103.49,262.42 L104.17,261.20 L104.85,261.17 L105.52,260.98 L106.20,260.19 L106.88,259.99 L107.56,259.99 L108.23,260.90 L108.91,260.69 L109.59,261.62 L110.26,262.07 L110.94,262.44 L111.62,262.02 L112.30,262.19 L112.97,262.73 L113.65,262.89 L114.33,263.72 L115.01,264.14 L115.68,264.48 L116.36,265.00 L117.04,265.74 L117.71,266.50 L118.39,265.93 L119.07,267.47 L119.75,267.35 L120.42,268.06 L121.10,268.64 L121.78,269.75 L122.46,269.70 L123.13,270.19 L123.81,269.99 L124.49,270.99 L125.16,272.14 L125.84,273.16 L126.52,272.91 L127.20,273.24 L127.87,274.18 L128.55,274.21 L129.23,275.43 L129.90,276.86 L130.58,277.71 L131.26,279.48 L131.94,280.29 L132.61,281.31 L133.29,281.21 L133.97,281.31 L134.65,281.95 L135.32,281.90 L136.00,283.00 L136.68,283.20 L137.35,283.86 L138.03,284.98 L138.71,284.90 L139.39,284.53 L140.06,283.78 L140.74,285.11 L141.42,285.91 L142.10,285.94 L142.77,287.62 L143.45,287.37 L144.13,288.56 L144.80,288.98 L145.48,288.70 L146.16,288.59 L146.84,287.77 L147.51,288.32 L148.19,288.12 L148.87,288.20 L149.55,288.08 L150.22,287.85 L150.90,287.71 L151.58,288.04 L152.25,288.31 L152.93,288.74 L153.61,289.95 L154.29,290.91 L154.96,290.44 L155.64,291.18 L156.32,291.39 L157.00,291.05 L157.67,291.24 L158.35,291.73 L159.03,292.43 L159.70,292.56 L160.38,292.10 L161.06,293.68 L161.74,294.08 L162.41,293.61 L163.09,293.61 L163.77,294.09 L164.45,294.06 L165.12,293.87 L165.80,293.46 L166.48,294.61 L167.15,294.93 L167.83,294.55 L168.51,294.26 L169.19,294.21 L169.86,294.11 L170.54,293.82 L171.22,293.90 L171.90,292.83 L172.57,293.72 L173.25,294.03 L173.93,294.72 L174.60,294.01 L175.28,293.70 L175.96,293.86 L176.64,294.50 L177.31,293.27 L177.99,293.36 L178.67,293.22 L179.35,294.33 L180.02,294.21 L180.70,294.10 L181.38,293.45 L182.05,293.71 L182.73,293.67 L183.41,295.08 L184.09,295.28 L184.76,295.29 L185.44,295.46 L186.12,295.63 L186.80,295.78 L187.47,295.05 L188.15,295.54 L188.83,295.25 L189.50,295.13 L190.18,295.63 L190.86,295.70 L191.54,297.09 L192.21,297.02 L192.89,296.12 L193.57,296.52 L194.25,297.53 L194.92,296.58 L195.60,297.23 L196.28,296.26 L196.95,296.44 L197.63,297.24 L198.31,297.43 L198.99,296.39 L199.66,296.53 L200.34,296.78 L201.02,296.84 L201.70,297.08 L202.37,297.50 L203.05,297.12 L203.73,296.48 L204.40,296.85 L205.08,296.32 L205.76,296.28 L206.44,297.67 L207.11,297.37 L207.79,296.88 L208.47,298.31 L209.15,298.09 L209.82,297.28 L210.50,297.38 L211.18,296.85 L211.85,296.58 L212.53,296.71 L213.21,296.36 L213.89,296.26 L214.56,295.94 L215.24,295.71 L215.92,296.02 L216.59,296.28 L217.27,296.36 L217.95,295.83 L218.63,296.32 L219.30,295.39 L219.98,296.01 L220.66,294.94 L221.34,295.42 L222.01,295.84 L222.69,296.14 L223.37,295.80 L224.04,295.76 L224.72,296.34 L225.40,296.20 L226.08,296.00 L226.75,296.07 L227.43,295.57 L228.11,297.31 L228.79,297.21 L229.46,297.41 L230.14,296.99 L230.82,295.99 L231.49,297.06 L232.17,297.40 L232.85,297.28 L233.53,296.57 L234.20,296.08 L234.88,296.71 L235.56,296.24 L236.24,296.44 L236.91,295.97 L237.59,296.18 L238.27,296.04 L238.94,296.23 L239.62,296.81 L240.30,297.35 L240.98,297.12 L241.65,297.73 L242.33,298.36 L243.01,298.44 L243.69,298.46 L244.36,298.57 L245.04,299.53 L245.72,300.03 L246.39,299.54 L247.07,299.84 L247.75,299.13 L248.43,299.09 L249.10,299.62 L249.78,299.04 L250.46,299.14 L251.14,298.17 L251.81,298.45 L252.49,297.80 L253.17,297.18 L253.84,297.77 L254.52,298.23 L255.20,299.03 L255.88,299.33 L256.55,299.21 L257.23,298.42 L257.91,298.21 L258.59,299.12 L259.26,298.51 L259.94,299.14 L260.62,298.14 L261.17,297.84" fill="none" stroke="#1a82c2" stroke-width="1.1" stroke-linejoin="round" stroke-linecap="butt"/><path d="M39.83,278.42 L39.86,277.72 L39.92,276.32 L40.01,274.21 L40.14,271.41 L40.29,267.91 L40.60,265.54 L41.37,261.40 L42.14,259.42 L42.91,258.06 L43.68,257.75 L44.45,257.50 L45.22,257.12 L45.99,256.78 L46.76,256.72 L47.52,256.26 L48.29,255.94 L49.06,255.60 L49.83,255.28 L50.60,255.43 L51.37,254.93 L52.14,255.05 L52.91,254.86 L53.68,254.53 L54.45,254.15 L55.22,253.91 L55.99,253.76 L56.76,253.58 L57.53,253.64 L58.30,253.44 L59.07,252.92 L59.84,253.26 L60.61,253.05 L61.38,252.84 L62.15,252.76 L62.92,252.54 L63.69,252.32 L64.46,252.20 L65.23,252.24 L66.00,252.42 L66.77,252.30 L67.53,252.44 L68.30,252.60 L69.07,252.26 L69.84,252.48 L70.61,252.61 L71.38,252.89 L72.15,252.74 L72.92,252.89 L73.69,252.94 L74.46,252.79 L75.23,252.76 L76.00,252.94 L76.77,252.87 L77.54,252.88 L78.31,252.98 L79.08,253.16 L79.85,253.07 L80.62,253.32 L81.39,253.20 L82.16,253.22 L82.93,253.42 L83.70,253.51 L84.47,253.09 L85.24,253.52 L86.01,253.46 L86.78,253.51 L87.55,253.44 L88.31,253.44 L89.08,253.37 L89.85,253.37 L90.62,253.49 L91.39,253.75 L92.16,253.75 L92.93,253.65 L93.70,253.62 L94.47,253.53 L95.24,253.68 L96.01,253.91 L96.78,253.95 L97.55,253.87 L98.32,253.75 L99.09,253.70 L99.86,253.72 L100.63,254.02 L101.40,254.08 L102.17,253.96 L102.94,253.94 L103.71,253.86 L104.48,254.10 L105.25,253.98 L106.02,254.38 L106.79,254.28 L107.56,254.15 L108.32,254.15 L109.09,253.98 L109.86,254.05 L110.63,254.06 L111.40,253.97 L112.17,254.15 L112.94,253.91 L113.71,254.09 L114.48,254.02 L115.25,254.03 L116.02,254.13 L116.79,254.11 L117.56,254.08 L118.33,254.17 L119.10,253.86 L119.87,254.14 L120.64,254.15 L121.41,254.00 L122.18,254.02 L122.95,253.95 L123.72,254.27 L124.49,254.26 L125.26,254.22 L126.03,254.04 L126.80,254.24 L127.57,254.23 L128.33,253.97 L129.10,254.05 L129.87,254.08 L130.64,254.17 L131.41,254.05 L132.18,254.41 L132.95,254.45 L133.72,254.44 L134.49,254.35 L135.26,254.32 L136.03,254.60 L136.80,254.45 L137.57,254.50 L138.34,254.03 L139.11,254.23 L139.88,254.15 L140.65,254.33 L141.42,254.39 L142.19,254.50 L142.96,254.33 L143.73,254.19 L144.50,254.47 L145.27,254.38 L146.04,254.30 L146.81,254.18 L147.58,254.38 L148.35,254.21 L149.11,254.49 L149.88,254.44 L150.65,254.51 L151.42,254.53 L152.19,254.35 L152.96,254.34 L153.73,254.02 L154.50,254.27 L155.27,254.49 L156.04,254.34 L156.81,254.40 L157.58,254.53 L158.35,254.36 L159.12,254.26 L159.89,254.61 L160.66,254.65 L161.43,254.45 L162.20,254.63 L162.97,254.38 L163.74,254.51 L164.51,254.49 L165.28,254.52 L166.05,254.71 L166.82,254.67 L167.59,254.73 L168.36,254.72 L169.12,254.51 L169.89,254.46 L170.66,254.56 L171.43,254.54 L172.20,254.36 L172.97,254.48 L173.74,254.59 L174.51,254.49 L175.28,254.62 L176.05,254.78 L176.82,254.43 L177.59,254.67 L178.36,254.61 L179.13,254.54 L179.90,254.61 L180.67,254.34 L181.44,254.20 L182.21,254.34 L182.98,254.68 L183.75,254.59 L184.52,254.83 L185.29,254.64 L186.06,254.50 L186.83,254.50 L187.60,254.38 L188.37,254.46 L189.13,254.66 L189.90,254.69 L190.67,254.50 L191.44,254.86 L192.21,254.70 L192.98,254.84 L193.75,254.42 L194.52,254.73 L195.29,255.00 L196.06,254.69 L196.83,254.54 L197.60,254.70 L198.37,254.69 L199.14,254.86 L199.91,254.78 L200.68,254.60 L201.45,254.58 L202.22,254.62 L202.99,254.71 L203.76,254.51 L204.53,254.31 L205.30,254.25 L206.07,254.61 L206.84,254.57 L207.61,254.69 L208.38,254.67 L209.15,254.56 L209.91,254.17 L210.68,254.32 L211.45,254.43 L212.22,254.55 L212.99,254.46 L213.76,254.72 L214.53,254.52 L215.30,254.40 L216.07,254.59 L216.84,254.32 L217.61,254.09 L218.38,254.41 L219.15,254.34 L219.92,254.49 L220.69,254.59 L221.46,254.42 L222.23,254.41 L223.00,254.63 L223.77,254.77 L224.54,254.59 L225.31,254.73 L226.08,254.77 L226.85,254.64 L227.62,254.60 L228.39,254.46 L229.16,254.15 L229.92,254.45 L230.69,254.21 L231.46,254.48 L232.23,254.42 L233.00,254.23 L233.77,253.95 L234.54,254.38 L235.31,254.10 L236.08,254.22 L236.85,254.23 L237.62,254.18 L238.39,253.96 L239.16,253.76 L239.93,253.95 L240.70,254.18 L241.47,254.31 L242.24,254.58 L243.01,254.62 L243.78,254.26 L244.55,254.47 L245.32,254.50 L246.09,254.42 L246.86,254.39 L247.63,254.40 L248.40,254.42 L249.17,254.36 L249.93,254.03 L250.70,253.97 L251.47,254.01 L252.24,254.15 L253.01,254.09 L253.78,254.04 L254.55,254.17 L255.32,254.27 L256.09,254.11 L256.86,254.17 L257.63,254.20 L258.40,254.11 L259.17,254.06 L259.94,254.16 L260.71,253.84 L261.17,253.86" fill="none" stroke="#f5862c" stroke-width="1.1" stroke-linejoin="round" stroke-linecap="butt"/><path d="M39.83,270.54 L39.86,270.33 L39.92,269.93 L40.01,269.32 L40.14,268.50 L40.29,267.49 L40.32,267.28 L40.81,265.16 L41.31,264.50 L41.80,261.52 L42.29,259.57 L42.78,259.55 L43.28,259.46 L43.77,259.55 L44.26,260.30 L44.75,260.60 L45.25,259.71 L45.74,258.74 L46.23,260.16 L46.72,260.09 L47.22,259.43 L47.71,258.12 L48.20,257.68 L48.69,257.15 L49.19,257.17 L49.68,257.92 L50.17,257.64 L50.66,256.44 L51.16,256.50 L51.65,257.38 L52.14,255.93 L52.64,255.76 L53.13,255.40 L53.62,254.27 L54.11,255.33 L54.61,255.86 L55.10,257.27 L55.59,256.08 L56.08,255.13 L56.58,255.02 L57.07,254.87 L57.56,254.10 L58.05,254.01 L58.55,253.90 L59.04,254.11 L59.53,254.13 L60.02,253.33 L60.52,253.64 L61.01,253.95 L61.50,254.10 L61.99,253.70 L62.49,253.16 L62.98,252.54 L63.47,252.36 L63.96,252.45 L64.46,253.33 L64.95,252.43 L65.44,253.13 L65.93,252.96 L66.43,252.00 L66.92,252.22 L67.41,253.10 L67.90,252.60 L68.40,253.10 L68.89,253.58 L69.38,252.71 L69.87,252.75 L70.37,251.13 L70.86,253.32 L71.35,253.74 L71.84,253.74 L72.34,253.21 L72.83,254.11 L73.32,253.37 L73.82,254.03 L74.31,253.74 L74.80,255.03 L75.29,255.03 L75.79,255.11 L76.28,255.49 L76.77,255.44 L77.26,254.63 L77.76,254.32 L78.25,253.50 L78.74,254.97 L79.23,255.88 L79.73,254.21 L80.22,254.56 L80.71,254.73 L81.20,255.69 L81.70,255.32 L82.19,255.38 L82.68,255.45 L83.17,254.71 L83.67,255.71 L84.16,255.56 L84.65,256.81 L85.14,255.96 L85.64,256.60 L86.13,254.95 L86.62,256.29 L87.11,254.95 L87.61,255.94 L88.10,256.94 L88.59,256.19 L89.08,255.80 L89.58,256.40 L90.07,256.91 L90.56,257.92 L91.05,257.01 L91.55,256.08 L92.04,257.23 L92.53,256.32 L93.02,254.85 L93.52,256.40 L94.01,255.58 L94.50,255.17 L94.99,255.75 L95.49,255.38 L95.98,256.17 L96.47,255.49 L96.97,254.34 L97.46,255.10 L97.95,255.66 L98.44,256.87 L98.94,254.82 L99.43,253.78 L99.92,254.87 L100.41,254.72 L100.91,254.55 L101.40,253.29 L101.89,254.47 L102.38,253.35 L102.88,254.90 L103.37,253.97 L103.86,254.58 L104.35,253.61 L104.85,253.76 L105.34,254.75 L105.83,255.45 L106.32,256.23 L106.82,254.78 L107.31,254.60 L107.80,255.68 L108.29,256.40 L108.79,255.40 L109.28,255.11 L109.77,255.19 L110.26,254.70 L110.76,253.96 L111.25,253.95 L111.74,253.56 L112.23,254.08 L112.73,254.28 L113.22,255.06 L113.71,254.66 L114.20,255.03 L114.70,255.65 L115.19,255.76 L115.68,256.22 L116.17,256.56 L116.67,256.35 L117.16,255.89 L117.65,257.38 L118.15,257.15 L118.64,256.85 L119.13,257.53 L119.62,256.81 L120.12,256.91 L120.61,257.18 L121.10,258.15 L121.59,258.42 L122.09,257.52 L122.58,255.91 L123.07,256.66 L123.56,258.32 L124.06,256.96 L124.55,257.09 L125.04,256.56 L125.53,257.61 L126.03,257.19 L126.52,257.30 L127.01,258.47 L127.50,258.46 L128.00,258.16 L128.49,258.71 L128.98,257.60 L129.47,258.15 L129.97,257.57 L130.46,258.07 L130.95,257.74 L131.44,257.65 L131.94,259.32 L132.43,259.04 L132.92,259.59 L133.41,258.60 L133.91,257.52 L134.40,257.14 L134.89,258.38 L135.38,258.35 L135.88,258.09 L136.37,258.81 L136.86,257.59 L137.35,257.58 L137.85,258.07 L138.34,258.93 L138.83,259.42 L139.33,259.60 L139.82,258.66 L140.31,259.33 L140.80,258.47 L141.30,257.08 L141.79,258.90 L142.28,259.35 L142.77,258.38 L143.27,258.48 L143.76,259.34 L144.25,259.22 L144.74,259.17 L145.24,258.62 L145.73,259.46 L146.22,259.50 L146.71,259.46 L147.21,259.12 L147.70,259.38 L148.19,260.38 L148.68,260.66 L149.18,258.79 L149.67,258.86 L150.16,258.33 L150.65,257.96 L151.15,257.38 L151.64,256.25 L152.13,256.43 L152.62,255.84 L153.12,255.57 L153.61,255.45 L154.10,256.43 L154.59,256.53 L155.09,255.65 L155.58,256.08 L156.07,256.34 L156.56,256.43 L157.06,257.13 L157.55,257.23 L158.04,256.60 L158.53,257.04 L159.03,257.55 L159.52,256.45 L160.01,255.88 L160.51,256.29 L161.00,257.19 L161.49,256.34 L161.98,256.37 L162.48,257.80 L162.97,258.15 L163.46,258.73 L163.95,259.50 L164.45,257.68 L164.94,256.72 L165.43,258.73 L165.92,257.98 L166.42,258.15 L166.91,258.01 L167.40,257.63 L167.89,257.48 L168.39,258.05 L168.88,258.77 L169.37,258.39 L169.86,257.48 L170.36,259.16 L170.85,259.71 L171.34,259.65 L171.83,260.15 L172.33,260.14 L172.82,259.31 L173.31,259.31 L173.80,259.74 L174.30,259.71 L174.79,260.01 L175.28,259.02 L175.77,259.28 L176.27,259.69 L176.76,259.42 L177.25,258.80 L177.74,257.36 L178.24,257.57 L178.73,257.83 L179.22,256.10 L179.71,256.59 L180.21,255.82 L180.70,255.88 L181.19,255.67 L181.69,256.76 L182.18,256.32 L182.67,256.65 L183.16,257.23 L183.66,256.48 L184.15,256.46 L184.64,256.24 L185.13,255.51 L185.63,257.35 L186.12,256.64 L186.61,257.59 L187.10,258.19 L187.60,257.40 L188.09,257.36 L188.58,258.59 L189.07,257.78 L189.57,257.22 L190.06,256.27 L190.55,255.96 L191.04,256.57 L191.54,257.92 L192.03,257.72 L192.52,257.23 L193.01,256.85 L193.51,256.50 L194.00,256.82 L194.49,256.73 L194.98,257.27 L195.48,257.38 L195.97,256.79 L196.46,256.20 L196.95,257.30 L197.45,257.30 L197.94,257.11 L198.43,256.38 L198.92,256.40 L199.42,254.72 L199.91,255.38 L200.40,256.26 L200.89,256.32 L201.39,256.62 L201.88,256.52 L202.37,256.17 L202.86,255.22 L203.36,254.80 L203.85,255.16 L204.34,256.43 L204.84,256.05 L205.33,256.72 L205.82,256.60 L206.31,256.17 L206.81,256.30 L207.30,254.93 L207.79,255.65 L208.28,256.27 L208.78,256.52 L209.27,255.91 L209.76,257.53 L210.25,257.67 L210.75,258.31 L211.24,258.18 L211.73,259.23 L212.22,258.89 L212.72,258.04 L213.21,258.85 L213.70,258.13 L214.19,259.08 L214.69,259.32 L215.18,260.22 L215.67,258.98 L216.16,258.19 L216.66,257.80 L217.15,256.88 L217.64,257.14 L218.13,255.51 L218.63,255.79 L219.12,256.66 L219.61,256.74 L220.10,256.60 L220.60,257.28 L221.09,257.52 L221.58,255.81 L222.07,255.68 L222.57,255.27 L223.06,254.11 L223.55,254.63 L224.04,255.87 L224.54,255.36 L225.03,256.25 L225.52,255.46 L226.02,255.45 L226.51,255.13 L227.00,256.36 L227.49,257.63 L227.99,256.90 L228.48,256.27 L228.97,256.47 L229.46,256.91 L229.96,257.15 L230.45,257.35 L230.94,256.82 L231.43,257.93 L231.93,257.77 L232.42,257.13 L232.91,257.27 L233.40,257.71 L233.90,257.90 L234.39,257.40 L234.88,256.93 L235.37,258.23 L235.87,256.39 L236.36,256.68 L236.85,257.11 L237.34,258.04 L237.84,258.28 L238.33,258.92 L238.82,257.16 L239.31,258.60 L239.81,258.69 L240.30,258.25 L240.79,258.57 L241.28,256.82 L241.78,256.42 L242.27,257.30 L242.76,258.49 L243.25,257.95 L243.75,258.02 L244.24,258.11 L244.73,258.63 L245.22,257.65 L245.72,257.64 L246.21,256.84 L246.70,256.66 L247.20,257.40 L247.69,257.40 L248.18,257.94 L248.67,257.68 L249.17,258.30 L249.66,257.42 L250.15,258.82 L250.64,257.82 L251.14,257.54 L251.63,256.84 L252.12,257.59 L252.61,257.18 L253.11,256.62 L253.60,256.79 L254.09,256.67 L254.58,256.70 L255.08,256.94 L255.57,257.14 L256.06,257.99 L256.55,257.31 L257.05,257.15 L257.54,256.08 L258.03,257.18 L258.52,256.18 L259.02,256.02 L259.51,258.25 L260.00,257.93 L260.49,256.88 L260.99,257.31 L261.17,257.01" fill="none" stroke="#14a03c" stroke-width="1.1" stroke-linejoin="round" stroke-linecap="butt"/><path d="M39.83,270.54 L39.86,270.34 L39.92,269.95 L40.01,269.35 L40.14,268.57 L40.29,267.58 L41.06,264.01 L42.29,260.64 L43.52,259.35 L44.75,258.09 L45.99,257.46 L47.22,256.79 L48.45,256.23 L49.68,255.92 L50.91,255.82 L52.14,255.59 L53.37,255.34 L54.61,255.16 L55.84,255.07 L57.07,255.01 L58.30,255.07 L59.53,254.94 L60.76,254.79 L61.99,254.78 L63.23,254.75 L64.46,254.73 L65.69,254.82 L66.92,254.77 L68.15,254.86 L69.38,254.88 L70.61,255.00 L71.84,255.03 L73.08,254.98 L74.31,255.18 L75.54,255.20 L76.77,255.52 L78.00,255.62 L79.23,255.69 L80.46,255.88 L81.70,255.98 L82.93,256.03 L84.16,256.20 L85.39,256.50 L86.62,256.54 L87.85,256.60 L89.08,256.75 L90.32,256.91 L91.55,257.04 L92.78,257.28 L94.01,257.39 L95.24,257.36 L96.47,257.45 L97.70,257.58 L98.94,257.79 L100.17,257.95 L101.40,257.98 L102.63,258.06 L103.86,258.15 L105.09,258.27 L106.32,258.30 L107.56,258.44 L108.79,258.51 L110.02,258.51 L111.25,258.74 L112.48,258.73 L113.71,258.87 L114.94,259.08 L116.17,259.13 L117.41,259.19 L118.64,259.11 L119.87,259.11 L121.10,259.05 L122.33,259.25 L123.56,259.37 L124.79,259.46 L126.03,259.42 L127.26,259.50 L128.49,259.62 L129.72,259.78 L130.95,259.70 L132.18,259.95 L133.41,259.99 L134.65,260.04 L135.88,260.03 L137.11,260.19 L138.34,260.11 L139.57,260.20 L140.80,260.33 L142.03,260.41 L143.27,260.43 L144.50,260.50 L145.73,260.46 L146.96,260.60 L148.19,260.60 L149.42,260.52 L150.65,260.62 L151.89,260.65 L153.12,260.70 L154.35,260.94 L155.58,260.88 L156.81,260.96 L158.04,260.97 L159.27,260.98 L160.51,261.06 L161.74,261.14 L162.97,261.31 L164.20,261.28 L165.43,261.34 L166.66,261.37 L167.89,261.37 L169.12,261.54 L170.36,261.51 L171.59,261.49 L172.82,261.63 L174.05,261.82 L175.28,261.67 L176.51,261.72 L177.74,261.79 L178.98,261.88 L180.21,261.99 L181.44,262.07 L182.67,262.09 L183.90,262.12 L185.13,262.20 L186.36,262.29 L187.60,262.30 L188.83,262.41 L190.06,262.53 L191.29,262.60 L192.52,262.67 L193.75,262.59 L194.98,262.65 L196.22,262.60 L197.45,262.62 L198.68,262.56 L199.91,262.62 L201.14,262.67 L202.37,262.80 L203.60,262.98 L204.84,262.92 L206.07,262.87 L207.30,262.98 L208.53,263.06 L209.76,263.12 L210.99,263.19 L212.22,263.11 L213.45,263.19 L214.69,263.18 L215.92,263.23 L217.15,263.36 L218.38,263.25 L219.61,263.37 L220.84,263.48 L222.07,263.41 L223.31,263.45 L224.54,263.56 L225.77,263.67 L227.00,263.77 L228.23,263.80 L229.46,263.74 L230.69,263.81 L231.93,263.73 L233.16,263.81 L234.39,263.77 L235.62,263.89 L236.85,263.89 L238.08,263.91 L239.31,263.96 L240.55,263.98 L241.78,264.04 L243.01,264.07 L244.24,263.96 L245.47,264.03 L246.70,264.00 L247.93,264.00 L249.17,264.07 L250.40,264.08 L251.63,264.15 L252.86,264.23 L254.09,264.31 L255.32,264.39 L256.55,264.46 L257.79,264.32 L259.02,264.39 L260.25,264.44 L261.17,264.42" fill="none" stroke="#f0647a" stroke-width="1.1" stroke-linejoin="round" stroke-linecap="butt"/><rect x="191.2" y="201.9" width="78.60" height="38.40" rx="1.5" fill="#fff" fill-opacity="0.85" stroke="#e6e6e6" stroke-width="0.8"/><line x1="195.5" y1="207.1" x2="205.6" y2="207.1" stroke="#4a9ed8" stroke-width="1.7"/><text transform="translate(212.80,209.60) scale(1,1.1)">Fscore_KNN</text><line x1="195.5" y1="216.1" x2="205.6" y2="216.1" stroke="#ffab70" stroke-width="1.7"/><text transform="translate(212.80,218.60) scale(1,1.1)">Fscore_RF</text><line x1="195.5" y1="224.7" x2="205.6" y2="224.7" stroke="#5cc080" stroke-width="1.7"/><text transform="translate(212.80,227.20) scale(1,1.1)">Fscore_XGBoost</text><line x1="195.5" y1="233.3" x2="205.6" y2="233.3" stroke="#f07890" stroke-width="1.7"/><text transform="translate(212.80,235.80) scale(1,1.1)">Fscore_SVM</text><rect x="28.9" y="199.6" width="243.20" height="144.50" fill="none" stroke="#969696" stroke-width="1.1"/><line x1="27.60" y1="344.10" x2="28.9" y2="344.10" stroke="#555" stroke-width="0.8"/><text transform="translate(27.10,347.20) scale(1,1.14)" text-anchor="end" class="tk">0.0</text><line x1="27.60" y1="317.83" x2="28.9" y2="317.83" stroke="#555" stroke-width="0.8"/><text transform="translate(27.10,320.93) scale(1,1.14)" text-anchor="end" class="tk">0.2</text><line x1="27.60" y1="291.55" x2="28.9" y2="291.55" stroke="#555" stroke-width="0.8"/><text transform="translate(27.10,294.65) scale(1,1.14)" text-anchor="end" class="tk">0.4</text><line x1="27.60" y1="265.28" x2="28.9" y2="265.28" stroke="#555" stroke-width="0.8"/><text transform="translate(27.10,268.38) scale(1,1.14)" text-anchor="end" class="tk">0.6</text><line x1="27.60" y1="239.01" x2="28.9" y2="239.01" stroke="#555" stroke-width="0.8"/><text transform="translate(27.10,242.11) scale(1,1.14)" text-anchor="end" class="tk">0.8</text><line x1="27.60" y1="212.74" x2="28.9" y2="212.74" stroke="#555" stroke-width="0.8"/><text transform="translate(27.10,215.84) scale(1,1.14)" text-anchor="end" class="tk">1.0</text><line x1="39.83" y1="344.1" x2="39.83" y2="345.40" stroke="#555" stroke-width="0.8"/><text transform="translate(39.83,352.80) scale(1,1.14)" text-anchor="middle" class="tk">0</text><line x1="70.61" y1="344.1" x2="70.61" y2="345.40" stroke="#555" stroke-width="0.8"/><text transform="translate(70.61,352.80) scale(1,1.14)" text-anchor="middle" class="tk">1000</text><line x1="101.40" y1="344.1" x2="101.40" y2="345.40" stroke="#555" stroke-width="0.8"/><text transform="translate(101.40,352.80) scale(1,1.14)" text-anchor="middle" class="tk">2000</text><line x1="132.18" y1="344.1" x2="132.18" y2="345.40" stroke="#555" stroke-width="0.8"/><text transform="translate(132.18,352.80) scale(1,1.14)" text-anchor="middle" class="tk">3000</text><line x1="162.97" y1="344.1" x2="162.97" y2="345.40" stroke="#555" stroke-width="0.8"/><text transform="translate(162.97,352.80) scale(1,1.14)" text-anchor="middle" class="tk">4000</text><line x1="193.75" y1="344.1" x2="193.75" y2="345.40" stroke="#555" stroke-width="0.8"/><text transform="translate(193.75,352.80) scale(1,1.14)" text-anchor="middle" class="tk">5000</text><line x1="224.54" y1="344.1" x2="224.54" y2="345.40" stroke="#555" stroke-width="0.8"/><text transform="translate(224.54,352.80) scale(1,1.14)" text-anchor="middle" class="tk">6000</text><line x1="255.32" y1="344.1" x2="255.32" y2="345.40" stroke="#555" stroke-width="0.8"/><text transform="translate(255.32,352.80) scale(1,1.14)" text-anchor="middle" class="tk">7000</text><text transform="translate(153.50,196.70) scale(1,1.1)" text-anchor="middle">Test_Fscore_Regress</text><text transform="translate(152.10,360.70) scale(1,1.1)" text-anchor="middle">Number of SNPs</text><text transform="translate(10.20,269.20) rotate(-90) scale(1,1.1)" text-anchor="middle" xml:space="preserve">Pearson  Correlation</text></g>
<g><path d="M311.53,252.15 L311.56,251.49 L311.62,250.18 L311.71,248.20 L311.84,245.58 L311.99,242.29 L312.30,238.20 L313.07,233.98 L313.84,232.60 L314.61,232.49 L315.38,232.26 L316.15,232.20 L316.92,232.62 L317.69,232.92 L318.46,232.47 L319.22,232.69 L319.99,233.34 L320.76,233.23 L321.53,233.39 L322.30,233.58 L323.07,233.82 L323.84,233.20 L324.61,232.61 L325.38,232.99 L326.15,233.17 L326.92,233.34 L327.69,233.65 L328.46,233.61 L329.23,233.41 L330.00,233.57 L330.77,233.44 L331.54,233.31 L332.31,233.09 L333.08,233.34 L333.85,233.65 L334.62,233.84 L335.39,233.93 L336.16,234.40 L336.93,234.71 L337.70,234.95 L338.47,234.78 L339.23,234.72 L340.00,234.90 L340.77,234.29 L341.54,234.57 L342.31,234.80 L343.08,235.02 L343.85,234.31 L344.62,233.72 L345.39,233.92 L346.16,233.67 L346.93,233.38 L347.70,234.00 L348.47,234.57 L349.24,234.90 L350.01,233.83 L350.78,233.81 L351.55,233.80 L352.32,233.96 L353.09,234.06 L353.86,233.31 L354.63,233.63 L355.40,233.45 L356.17,232.61 L356.94,232.87 L357.71,232.93 L358.48,233.02 L359.25,233.33 L360.01,233.19 L360.78,232.56 L361.55,232.61 L362.32,232.57 L363.09,233.07 L363.86,233.80 L364.63,233.21 L365.40,233.65 L366.17,233.66 L366.94,233.64 L367.71,233.03 L368.48,233.54 L369.25,233.22 L370.02,233.95 L370.79,233.66 L371.56,233.39 L372.33,233.54 L373.10,233.66 L373.87,233.83 L374.64,233.49 L375.41,233.73 L376.18,232.80 L376.95,233.16 L377.72,233.25 L378.49,233.32 L379.26,233.28 L380.02,233.57 L380.79,233.72 L381.56,234.32 L382.33,234.89 L383.10,235.06 L383.87,234.65 L384.64,233.95 L385.41,234.54 L386.18,234.59 L386.95,235.14 L387.72,234.83 L388.49,235.03 L389.26,234.10 L390.03,234.76 L390.80,234.60 L391.57,235.05 L392.34,235.43 L393.11,235.47 L393.88,236.12 L394.65,235.99 L395.42,236.41 L396.19,236.36 L396.96,236.38 L397.73,237.35 L398.50,237.64 L399.27,237.99 L400.03,238.61 L400.80,238.82 L401.57,239.17 L402.34,239.78 L403.11,240.03 L403.88,240.59 L404.65,241.41 L405.42,241.72 L406.19,242.49 L406.96,242.88 L407.73,243.83 L408.50,244.65 L409.27,245.39 L410.04,245.85 L410.81,246.63 L411.58,246.51 L412.35,246.67 L413.12,246.87 L413.89,247.40 L414.66,247.36 L415.43,247.35 L416.20,247.16 L416.97,247.37 L417.74,247.34 L418.51,247.33 L419.28,247.71 L420.05,247.82 L420.81,248.55 L421.58,248.93 L422.35,248.73 L423.12,248.62 L423.89,248.84 L424.66,248.96 L425.43,248.69 L426.20,249.38 L426.97,249.40 L427.74,250.23 L428.51,250.47 L429.28,250.32 L430.05,250.44 L430.82,250.93 L431.59,250.45 L432.36,251.18 L433.13,251.88 L433.90,251.89 L434.67,251.92 L435.44,251.81 L436.21,251.88 L436.98,251.91 L437.75,251.92 L438.52,251.86 L439.29,251.98 L440.06,252.16 L440.82,252.36 L441.59,252.43 L442.36,252.42 L443.13,252.44 L443.90,252.70 L444.67,252.71 L445.44,252.90 L446.21,253.03 L446.98,252.78 L447.75,253.07 L448.52,253.02 L449.29,253.32 L450.06,253.32 L450.83,253.52 L451.60,253.68 L452.37,253.57 L453.14,253.73 L453.91,254.03 L454.68,254.29 L455.45,254.51 L456.22,254.41 L456.99,254.45 L457.76,254.72 L458.53,254.85 L459.30,254.75 L460.07,254.95 L460.83,255.15 L461.60,254.99 L462.37,255.14 L463.14,255.23 L463.91,255.13 L464.68,255.06 L465.45,255.06 L466.22,255.35 L466.99,255.56 L467.76,255.69 L468.53,255.67 L469.30,255.83 L470.07,255.74 L470.84,255.93 L471.61,255.95 L472.38,255.96 L473.15,255.88 L473.92,256.07 L474.69,256.15 L475.46,256.09 L476.23,256.16 L477.00,256.58 L477.77,256.59 L478.54,256.57 L479.31,256.89 L480.08,257.15 L480.85,257.05 L481.61,256.80 L482.38,256.93 L483.15,256.72 L483.92,256.28 L484.69,256.44 L485.46,256.41 L486.23,256.39 L487.00,256.53 L487.77,256.89 L488.54,256.80 L489.31,256.81 L490.08,256.69 L490.85,256.92 L491.62,256.81 L492.39,256.80 L493.16,256.94 L493.93,256.93 L494.70,257.12 L495.47,257.01 L496.24,257.00 L497.01,257.00 L497.78,257.09 L498.55,257.25 L499.32,257.51 L500.09,257.48 L500.86,257.45 L501.62,257.47 L502.39,257.59 L503.16,257.45 L503.93,257.74 L504.70,257.67 L505.47,257.75 L506.24,257.92 L507.01,258.15 L507.78,258.20 L508.55,258.15 L509.32,258.10 L510.09,257.83 L510.86,257.53 L511.63,257.65 L512.40,257.48 L513.17,257.71 L513.94,257.74 L514.71,257.64 L515.48,257.53 L516.25,257.66 L517.02,257.86 L517.79,258.08 L518.56,258.20 L519.33,258.14 L520.10,257.93 L520.87,257.70 L521.63,257.69 L522.40,257.46 L523.17,257.70 L523.94,257.81 L524.71,257.68 L525.48,257.72 L526.25,257.92 L527.02,258.25 L527.79,258.12 L528.56,258.10 L529.33,258.03 L530.10,258.22 L530.87,257.98 L531.64,257.87 L532.41,257.91 L532.87,258.17" fill="none" stroke="#2590c8" stroke-width="1.3" stroke-linejoin="round" stroke-linecap="butt"/><path d="M311.53,237.04 L311.56,234.82 L311.62,230.39 L311.71,223.74 L311.84,218.92 L311.99,217.95 L314.61,215.14 L317.69,215.11 L320.76,215.18 L323.84,215.24 L326.92,215.27 L330.00,215.16 L333.08,215.11 L336.16,215.15 L339.23,215.22 L342.31,215.22 L345.39,215.16 L348.47,215.18 L351.55,215.21 L354.63,215.18 L357.71,215.18 L360.78,215.24 L363.86,215.22 L366.94,215.25 L370.02,215.24 L373.10,215.26 L376.18,215.27 L379.26,215.29 L382.33,215.21 L385.41,215.19 L388.49,215.26 L391.57,215.19 L394.65,215.06 L397.73,215.18 L400.80,215.22 L403.88,215.31 L406.96,215.27 L410.04,215.24 L413.12,215.17 L416.20,215.23 L419.28,215.19 L422.35,215.24 L425.43,215.25 L428.51,215.24 L431.59,215.32 L434.67,215.31 L437.75,215.35 L440.82,215.25 L443.90,215.24 L446.98,215.22 L450.06,215.22 L453.14,215.28 L456.22,215.25 L459.30,215.25 L462.37,215.30 L465.45,215.28 L468.53,215.19 L471.61,215.15 L474.69,215.22 L477.77,215.24 L480.85,215.35 L483.92,215.32 L487.00,215.35 L490.08,215.35 L493.16,215.27 L496.24,215.33 L499.32,215.22 L502.39,215.24 L505.47,215.19 L508.55,215.18 L511.63,215.25 L514.71,215.27 L517.79,215.30 L520.87,215.27 L523.94,215.27 L527.02,215.28 L530.10,215.19 L532.87,215.15" fill="none" stroke="#ffb27c" stroke-width="1.4" stroke-linejoin="round" stroke-linecap="butt"/><path d="M311.53,255.96 L311.56,254.96 L311.62,252.96 L311.71,249.96 L311.84,245.97 L311.99,240.98 L312.76,234.13 L313.99,229.89 L315.22,227.64 L316.45,226.40 L317.69,225.25 L318.92,224.59 L320.15,224.22 L321.38,223.70 L322.61,223.59 L323.84,223.56 L325.07,223.40 L326.31,222.99 L327.54,222.99 L328.77,222.73 L330.00,222.34 L331.23,222.19 L332.46,222.48 L333.69,222.24 L334.93,222.26 L336.16,222.18 L337.39,222.27 L338.62,222.07 L339.85,221.83 L341.08,221.87 L342.31,222.02 L343.54,222.05 L344.78,221.58 L346.01,221.58 L347.24,221.64 L348.47,221.41 L349.70,221.50 L350.93,221.47 L352.16,221.54 L353.40,221.36 L354.63,221.30 L355.86,221.03 L357.09,221.11 L358.32,221.21 L359.55,221.36 L360.78,221.19 L362.02,221.27 L363.25,221.21 L364.48,221.25 L365.71,220.92 L366.94,221.12 L368.17,221.32 L369.40,221.17 L370.64,221.13 L371.87,221.12 L373.10,220.91 L374.33,220.79 L375.56,220.73 L376.79,220.48 L378.02,220.71 L379.26,220.57 L380.49,220.74 L381.72,220.66 L382.95,221.12 L384.18,221.05 L385.41,220.81 L386.64,220.59 L387.87,220.61 L389.11,220.78 L390.34,220.54 L391.57,220.28 L392.80,220.67 L394.03,220.59 L395.26,220.47 L396.49,220.40 L397.73,220.65 L398.96,220.51 L400.19,220.44 L401.42,220.45 L402.65,220.27 L403.88,220.14 L405.11,220.27 L406.35,220.02 L407.58,220.27 L408.81,219.92 L410.04,220.20 L411.27,219.96 L412.50,220.21 L413.73,220.08 L414.97,219.94 L416.20,220.10 L417.43,219.95 L418.66,220.13 L419.89,220.16 L421.12,220.06 L422.35,219.99 L423.59,219.89 L424.82,219.79 L426.05,219.39 L427.28,219.44 L428.51,219.58 L429.74,219.68 L430.97,219.73 L432.21,219.70 L433.44,219.82 L434.67,219.51 L435.90,219.54 L437.13,219.75 L438.36,219.84 L439.59,219.63 L440.82,219.57 L442.06,219.68 L443.29,219.79 L444.52,219.84 L445.75,219.65 L446.98,219.65 L448.21,219.85 L449.44,219.62 L450.68,219.96 L451.91,219.86 L453.14,219.44 L454.37,219.29 L455.60,219.67 L456.83,219.66 L458.06,219.67 L459.30,219.37 L460.53,219.28 L461.76,219.07 L462.99,219.05 L464.22,219.04 L465.45,219.31 L466.68,219.37 L467.92,219.41 L469.15,219.58 L470.38,219.23 L471.61,219.18 L472.84,219.50 L474.07,219.25 L475.30,219.38 L476.54,219.20 L477.77,219.30 L479.00,219.44 L480.23,219.54 L481.46,219.66 L482.69,219.59 L483.92,219.71 L485.15,219.43 L486.39,219.47 L487.62,219.39 L488.85,219.25 L490.08,219.42 L491.31,219.58 L492.54,219.13 L493.77,219.43 L495.01,219.45 L496.24,219.25 L497.47,219.13 L498.70,219.18 L499.93,219.36 L501.16,219.05 L502.39,218.97 L503.63,219.02 L504.86,219.06 L506.09,218.91 L507.32,218.76 L508.55,218.85 L509.78,218.91 L511.01,218.84 L512.25,219.30 L513.48,218.91 L514.71,219.14 L515.94,219.11 L517.17,218.97 L518.40,219.00 L519.63,218.79 L520.87,218.53 L522.10,218.69 L523.33,218.68 L524.56,218.69 L525.79,218.60 L527.02,218.73 L528.25,218.83 L529.49,218.91 L530.72,218.89 L531.95,218.74 L532.87,218.98" fill="none" stroke="#49bc6a" stroke-width="1.3" stroke-linejoin="round" stroke-linecap="butt"/><path d="M311.53,265.41 L311.56,264.72 L311.62,263.34 L311.71,261.26 L311.84,258.49 L311.99,255.04 L313.38,250.34 L315.22,249.97 L317.07,249.67 L318.92,249.38 L320.76,249.11 L322.61,248.92 L324.46,248.72 L326.31,248.55 L328.15,248.36 L330.00,248.06 L331.85,248.05 L333.69,247.77 L335.54,247.71 L337.39,247.54 L339.23,247.36 L341.08,247.27 L342.93,247.07 L344.78,246.97 L346.62,247.01 L348.47,246.93 L350.32,247.02 L352.16,247.04 L354.01,246.98 L355.86,247.06 L357.71,247.11 L359.55,247.03 L361.40,247.02 L363.25,247.01 L365.09,247.20 L366.94,247.27 L368.79,247.31 L370.64,247.41 L372.48,247.49 L374.33,247.65 L376.18,247.69 L378.02,247.77 L379.87,247.82 L381.72,247.79 L383.57,247.91 L385.41,247.92 L387.26,247.93 L389.11,247.95 L390.95,248.08 L392.80,248.01 L394.65,247.98 L396.49,248.07 L398.34,248.14 L400.19,248.18 L402.04,248.29 L403.88,248.26 L405.73,248.27 L407.58,248.32 L409.42,248.33 L411.27,248.42 L413.12,248.38 L414.97,248.35 L416.81,248.55 L418.66,248.59 L420.51,248.56 L422.35,248.63 L424.20,248.70 L426.05,248.71 L427.90,248.65 L429.74,248.73 L431.59,248.80 L433.44,248.77 L435.28,248.85 L437.13,248.87 L438.98,248.94 L440.82,248.97 L442.67,249.06 L444.52,248.97 L446.37,249.02 L448.21,249.00 L450.06,249.12 L451.91,249.22 L453.75,249.26 L455.60,249.34 L457.45,249.40 L459.30,249.45 L461.14,249.44 L462.99,249.43 L464.84,249.41 L466.68,249.40 L468.53,249.39 L470.38,249.39 L472.23,249.44 L474.07,249.39 L475.92,249.45 L477.77,249.54 L479.61,249.44 L481.46,249.41 L483.31,249.48 L485.15,249.43 L487.00,249.49 L488.85,249.55 L490.70,249.63 L492.54,249.55 L494.39,249.62 L496.24,249.60 L498.08,249.68 L499.93,249.64 L501.78,249.72 L503.63,249.66 L505.47,249.65 L507.32,249.65 L509.17,249.71 L511.01,249.65 L512.86,249.65 L514.71,249.73 L516.56,249.83 L518.40,249.77 L520.25,249.81 L522.10,249.90 L523.94,249.85 L525.79,249.78 L527.64,249.72 L529.49,249.71 L531.33,249.77 L532.87,249.83" fill="none" stroke="#f58090" stroke-width="1.4" stroke-linejoin="round" stroke-linecap="butt"/><rect x="463.3" y="303.0" width="77.70" height="38.50" rx="1.5" fill="#fff" fill-opacity="0.85" stroke="#e6e6e6" stroke-width="0.8"/><line x1="468.0" y1="308.1" x2="477.1" y2="308.1" stroke="#4a9ed8" stroke-width="1.6"/><text transform="translate(484.70,310.60) scale(1,1.1)">Fscore_KNN</text><line x1="468.0" y1="317.3" x2="477.1" y2="317.3" stroke="#ffb27a" stroke-width="1.6"/><text transform="translate(484.70,319.80) scale(1,1.1)">Fscore_RF</text><line x1="468.0" y1="326.3" x2="477.1" y2="326.3" stroke="#4cc070" stroke-width="1.6"/><text transform="translate(484.70,328.80) scale(1,1.1)">Fscore_XGBoost</text><line x1="468.0" y1="335.3" x2="477.1" y2="335.3" stroke="#f2707f" stroke-width="1.6"/><text transform="translate(484.70,337.80) scale(1,1.1)">Fscore_SVM</text><rect x="300.6" y="199.6" width="243.20" height="144.50" fill="none" stroke="#969696" stroke-width="1.1"/><line x1="299.30" y1="344.10" x2="300.6" y2="344.10" stroke="#555" stroke-width="0.8"/><text transform="translate(298.80,347.20) scale(1,1.14)" text-anchor="end" class="tk">0.0</text><line x1="299.30" y1="317.83" x2="300.6" y2="317.83" stroke="#555" stroke-width="0.8"/><text transform="translate(298.80,320.93) scale(1,1.14)" text-anchor="end" class="tk">0.2</text><line x1="299.30" y1="291.55" x2="300.6" y2="291.55" stroke="#555" stroke-width="0.8"/><text transform="translate(298.80,294.65) scale(1,1.14)" text-anchor="end" class="tk">0.4</text><line x1="299.30" y1="265.28" x2="300.6" y2="265.28" stroke="#555" stroke-width="0.8"/><text transform="translate(298.80,268.38) scale(1,1.14)" text-anchor="end" class="tk">0.6</text><line x1="299.30" y1="239.01" x2="300.6" y2="239.01" stroke="#555" stroke-width="0.8"/><text transform="translate(298.80,242.11) scale(1,1.14)" text-anchor="end" class="tk">0.8</text><line x1="299.30" y1="212.74" x2="300.6" y2="212.74" stroke="#555" stroke-width="0.8"/><text transform="translate(298.80,215.84) scale(1,1.14)" text-anchor="end" class="tk">1.0</text><line x1="311.53" y1="344.1" x2="311.53" y2="345.40" stroke="#555" stroke-width="0.8"/><text transform="translate(311.53,352.80) scale(1,1.14)" text-anchor="middle" class="tk">0</text><line x1="342.31" y1="344.1" x2="342.31" y2="345.40" stroke="#555" stroke-width="0.8"/><text transform="translate(342.31,352.80) scale(1,1.14)" text-anchor="middle" class="tk">1000</text><line x1="373.10" y1="344.1" x2="373.10" y2="345.40" stroke="#555" stroke-width="0.8"/><text transform="translate(373.10,352.80) scale(1,1.14)" text-anchor="middle" class="tk">2000</text><line x1="403.88" y1="344.1" x2="403.88" y2="345.40" stroke="#555" stroke-width="0.8"/><text transform="translate(403.88,352.80) scale(1,1.14)" text-anchor="middle" class="tk">3000</text><line x1="434.67" y1="344.1" x2="434.67" y2="345.40" stroke="#555" stroke-width="0.8"/><text transform="translate(434.67,352.80) scale(1,1.14)" text-anchor="middle" class="tk">4000</text><line x1="465.45" y1="344.1" x2="465.45" y2="345.40" stroke="#555" stroke-width="0.8"/><text transform="translate(465.45,352.80) scale(1,1.14)" text-anchor="middle" class="tk">5000</text><line x1="496.24" y1="344.1" x2="496.24" y2="345.40" stroke="#555" stroke-width="0.8"/><text transform="translate(496.24,352.80) scale(1,1.14)" text-anchor="middle" class="tk">6000</text><line x1="527.02" y1="344.1" x2="527.02" y2="345.40" stroke="#555" stroke-width="0.8"/><text transform="translate(527.02,352.80) scale(1,1.14)" text-anchor="middle" class="tk">7000</text><text transform="translate(426.20,196.70) scale(1,1.1)" text-anchor="middle">Train_Fscore_Regress</text><text transform="translate(423.80,360.70) scale(1,1.1)" text-anchor="middle">Number of SNPs</text><text transform="translate(285.25,269.30) rotate(-90) scale(1,1.1)" text-anchor="middle" xml:space="preserve">Pearson  Correlation</text></g>
<g><path d="M39.83,463.49 L39.86,462.83 L39.92,461.52 L40.01,459.55 L40.14,456.92 L40.29,453.64 L40.51,450.16 L41.18,447.89 L41.86,446.85 L42.54,446.28 L43.21,445.91 L43.89,445.95 L44.57,445.81 L45.25,445.28 L45.92,445.42 L46.60,444.30 L47.28,444.49 L47.96,443.45 L48.63,442.75 L49.31,442.67 L49.99,443.89 L50.66,444.30 L51.34,443.92 L52.02,444.25 L52.70,442.94 L53.37,443.51 L54.05,442.40 L54.73,441.89 L55.41,440.54 L56.08,441.61 L56.76,441.17 L57.44,441.44 L58.11,442.19 L58.79,441.85 L59.47,441.26 L60.15,442.06 L60.82,442.37 L61.50,443.36 L62.18,443.28 L62.86,443.30 L63.53,442.75 L64.21,442.42 L64.89,442.59 L65.56,442.91 L66.24,442.29 L66.92,442.42 L67.60,441.73 L68.27,441.75 L68.95,442.74 L69.63,443.34 L70.31,442.99 L70.98,443.54 L71.66,443.32 L72.34,443.10 L73.01,442.97 L73.69,442.93 L74.37,443.54 L75.05,444.18 L75.72,444.83 L76.40,444.26 L77.08,442.82 L77.76,443.90 L78.43,442.77 L79.11,443.77 L79.79,444.01 L80.46,443.74 L81.14,442.43 L81.82,442.55 L82.50,441.49 L83.17,440.54 L83.85,439.77 L84.53,439.72 L85.21,439.50 L85.88,439.31 L86.56,439.02 L87.24,439.23 L87.91,439.51 L88.59,440.99 L89.27,441.18 L89.95,440.74 L90.62,439.85 L91.30,438.69 L91.98,439.46 L92.66,440.11 L93.33,441.02 L94.01,440.31 L94.69,441.54 L95.36,442.25 L96.04,442.49 L96.72,443.05 L97.40,441.92 L98.07,441.96 L98.75,442.63 L99.43,442.26 L100.11,443.08 L100.78,442.64 L101.46,442.68 L102.14,443.90 L102.81,444.50 L103.49,444.64 L104.17,445.59 L104.85,445.08 L105.52,445.55 L106.20,445.90 L106.88,446.47 L107.56,446.50 L108.23,446.36 L108.91,446.35 L109.59,446.37 L110.26,446.31 L110.94,446.89 L111.62,447.90 L112.30,448.08 L112.97,449.06 L113.65,449.18 L114.33,449.55 L115.01,449.90 L115.68,450.16 L116.36,450.92 L117.04,451.64 L117.71,451.04 L118.39,449.52 L119.07,450.17 L119.75,449.68 L120.42,448.89 L121.10,448.91 L121.78,449.25 L122.46,449.77 L123.13,448.76 L123.81,449.17 L124.49,449.29 L125.16,449.63 L125.84,450.93 L126.52,451.22 L127.20,451.01 L127.87,451.55 L128.55,452.37 L129.23,453.41 L129.90,453.60 L130.58,454.11 L131.26,453.88 L131.94,455.53 L132.61,455.77 L133.29,456.59 L133.97,456.76 L134.65,457.26 L135.32,457.62 L136.00,458.01 L136.68,459.08 L137.35,460.29 L138.03,460.08 L138.71,460.29 L139.39,460.06 L140.06,460.65 L140.74,460.34 L141.42,460.55 L142.10,459.97 L142.77,459.95 L143.45,459.95 L144.13,460.17 L144.80,460.87 L145.48,461.24 L146.16,460.91 L146.84,460.91 L147.51,461.52 L148.19,462.37 L148.87,462.82 L149.55,464.27 L150.22,465.22 L150.90,464.91 L151.58,464.25 L152.25,464.93 L152.93,466.02 L153.61,466.22 L154.29,467.63 L154.96,468.13 L155.64,468.07 L156.32,469.01 L157.00,469.62 L157.67,470.34 L158.35,471.94 L159.03,471.74 L159.70,472.83 L160.38,473.39 L161.06,473.82 L161.74,474.78 L162.41,474.49 L163.09,474.67 L163.77,475.26 L164.45,475.07 L165.12,475.79 L165.80,476.05 L166.48,475.66 L167.15,476.27 L167.83,474.02 L168.51,473.69 L169.19,473.90 L169.86,475.62 L170.54,476.49 L171.22,477.24 L171.90,479.11 L172.57,479.50 L173.25,480.58 L173.93,481.49 L174.60,481.74 L175.28,481.56 L175.96,480.94 L176.64,480.69 L177.31,480.61 L177.99,481.31 L178.67,481.38 L179.35,481.84 L180.02,481.52 L180.70,481.66 L181.38,481.70 L182.05,482.22 L182.73,483.16 L183.41,482.22 L184.09,482.18 L184.76,482.29 L185.44,482.44 L186.12,483.46 L186.80,482.96 L187.47,482.69 L188.15,483.83 L188.83,483.64 L189.50,484.48 L190.18,483.47 L190.86,483.89 L191.54,484.51 L192.21,485.74 L192.89,486.49 L193.57,485.59 L194.25,485.85 L194.92,486.08 L195.60,485.73 L196.28,485.29 L196.95,485.30 L197.63,485.95 L198.31,485.99 L198.99,486.00 L199.66,486.03 L200.34,486.89 L201.02,486.16 L201.70,486.36 L202.37,486.06 L203.05,485.50 L203.73,485.26 L204.40,486.53 L205.08,485.99 L205.76,486.73 L206.44,485.94 L207.11,486.47 L207.79,485.45 L208.47,486.44 L209.15,486.36 L209.82,486.33 L210.50,487.36 L211.18,487.40 L211.85,487.06 L212.53,486.87 L213.21,486.43 L213.89,485.53 L214.56,485.43 L215.24,485.17 L215.92,486.08 L216.59,486.10 L217.27,486.62 L217.95,487.00 L218.63,486.77 L219.30,486.72 L219.98,486.32 L220.66,486.57 L221.34,486.62 L222.01,487.13 L222.69,486.60 L223.37,487.11 L224.04,486.16 L224.72,485.96 L225.40,485.96 L226.08,486.32 L226.75,486.21 L227.43,485.55 L228.11,486.57 L228.79,486.19 L229.46,486.50 L230.14,485.14 L230.82,486.27 L231.49,487.09 L232.17,487.55 L232.85,487.12 L233.53,487.90 L234.20,487.10 L234.88,487.12 L235.56,486.94 L236.24,485.69 L236.91,485.24 L237.59,485.15 L238.27,485.03 L238.94,484.73 L239.62,485.38 L240.30,484.69 L240.98,484.20 L241.65,484.54 L242.33,484.33 L243.01,484.82 L243.69,484.10 L244.36,484.49 L245.04,483.78 L245.72,484.30 L246.39,483.67 L247.07,483.86 L247.75,484.21 L248.43,484.44 L249.10,485.10 L249.78,485.31 L250.46,484.71 L251.14,484.67 L251.81,485.59 L252.49,484.86 L253.17,485.16 L253.84,485.29 L254.52,484.48 L255.20,485.31 L255.88,485.16 L256.55,484.65 L257.23,485.14 L257.91,484.85 L258.59,485.71 L259.26,486.14 L259.94,486.67 L260.62,486.87 L261.17,487.36" fill="none" stroke="#1a82c2" stroke-width="1.1" stroke-linejoin="round" stroke-linecap="butt"/><path d="M39.83,462.18 L39.86,461.48 L39.92,460.08 L40.01,457.97 L40.14,455.17 L40.29,451.67 L40.60,449.62 L41.37,446.03 L42.14,445.64 L42.91,445.07 L43.68,445.03 L44.45,444.93 L45.22,444.67 L45.99,444.82 L46.76,444.78 L47.52,444.47 L48.29,444.30 L49.06,443.91 L49.83,443.88 L50.60,443.88 L51.37,443.33 L52.14,443.28 L52.91,443.15 L53.68,443.27 L54.45,443.11 L55.22,442.86 L55.99,442.93 L56.76,442.68 L57.53,442.70 L58.30,442.62 L59.07,442.60 L59.84,442.14 L60.61,442.19 L61.38,442.37 L62.15,442.10 L62.92,442.29 L63.69,442.10 L64.46,442.35 L65.23,442.33 L66.00,442.03 L66.77,441.76 L67.53,441.69 L68.30,441.67 L69.07,441.70 L69.84,441.89 L70.61,441.85 L71.38,441.76 L72.15,441.45 L72.92,441.39 L73.69,441.71 L74.46,441.50 L75.23,441.50 L76.00,441.53 L76.77,441.31 L77.54,441.11 L78.31,441.01 L79.08,441.25 L79.85,441.26 L80.62,441.15 L81.39,440.97 L82.16,441.13 L82.93,441.15 L83.70,441.30 L84.47,441.39 L85.24,441.08 L86.01,440.83 L86.78,440.94 L87.55,440.80 L88.31,440.83 L89.08,441.01 L89.85,440.93 L90.62,440.67 L91.39,440.81 L92.16,440.59 L92.93,441.19 L93.70,440.89 L94.47,440.86 L95.24,440.91 L96.01,440.85 L96.78,441.17 L97.55,441.02 L98.32,440.84 L99.09,440.55 L99.86,440.74 L100.63,440.90 L101.40,440.95 L102.17,440.73 L102.94,440.74 L103.71,440.89 L104.48,440.80 L105.25,440.84 L106.02,440.72 L106.79,440.95 L107.56,441.01 L108.32,441.06 L109.09,441.28 L109.86,441.10 L110.63,441.02 L111.40,441.03 L112.17,441.09 L112.94,441.33 L113.71,441.29 L114.48,441.26 L115.25,441.34 L116.02,441.28 L116.79,441.16 L117.56,440.86 L118.33,441.01 L119.10,441.08 L119.87,441.18 L120.64,441.56 L121.41,441.43 L122.18,441.36 L122.95,440.93 L123.72,441.18 L124.49,441.22 L125.26,441.32 L126.03,441.56 L126.80,441.30 L127.57,441.25 L128.33,441.23 L129.10,441.52 L129.87,441.28 L130.64,441.64 L131.41,441.50 L132.18,441.16 L132.95,441.54 L133.72,441.66 L134.49,441.61 L135.26,441.70 L136.03,441.93 L136.80,441.77 L137.57,441.89 L138.34,441.70 L139.11,441.84 L139.88,441.50 L140.65,441.74 L141.42,441.78 L142.19,441.61 L142.96,441.89 L143.73,441.78 L144.50,441.55 L145.27,441.94 L146.04,441.83 L146.81,441.77 L147.58,441.66 L148.35,441.95 L149.11,442.12 L149.88,441.90 L150.65,441.83 L151.42,441.81 L152.19,441.79 L152.96,441.96 L153.73,441.90 L154.50,441.86 L155.27,442.02 L156.04,441.66 L156.81,441.73 L157.58,442.06 L158.35,441.91 L159.12,442.12 L159.89,441.93 L160.66,441.78 L161.43,442.05 L162.20,441.88 L162.97,441.90 L163.74,441.84 L164.51,441.64 L165.28,441.91 L166.05,442.12 L166.82,442.25 L167.59,442.30 L168.36,442.20 L169.12,442.08 L169.89,442.03 L170.66,441.92 L171.43,441.99 L172.20,441.79 L172.97,441.98 L173.74,441.56 L174.51,441.71 L175.28,442.04 L176.05,442.24 L176.82,442.08 L177.59,442.12 L178.36,441.98 L179.13,441.95 L179.90,442.03 L180.67,442.20 L181.44,442.40 L182.21,442.31 L182.98,442.05 L183.75,442.03 L184.52,442.27 L185.29,442.14 L186.06,442.04 L186.83,442.21 L187.60,442.12 L188.37,442.09 L189.13,442.28 L189.90,442.12 L190.67,442.00 L191.44,441.86 L192.21,441.79 L192.98,442.17 L193.75,442.28 L194.52,442.10 L195.29,442.00 L196.06,441.96 L196.83,441.37 L197.60,441.64 L198.37,441.68 L199.14,441.73 L199.91,441.81 L200.68,442.01 L201.45,441.93 L202.22,442.16 L202.99,442.18 L203.76,442.24 L204.53,442.17 L205.30,441.75 L206.07,442.26 L206.84,442.08 L207.61,442.39 L208.38,442.35 L209.15,442.06 L209.91,442.10 L210.68,442.31 L211.45,442.36 L212.22,442.14 L212.99,442.28 L213.76,442.19 L214.53,442.17 L215.30,442.28 L216.07,441.86 L216.84,441.91 L217.61,442.39 L218.38,442.26 L219.15,442.34 L219.92,442.12 L220.69,442.29 L221.46,442.27 L222.23,442.15 L223.00,442.03 L223.77,442.32 L224.54,442.33 L225.31,442.34 L226.08,442.38 L226.85,441.98 L227.62,442.01 L228.39,442.31 L229.16,442.08 L229.92,441.76 L230.69,441.79 L231.46,442.23 L232.23,442.27 L233.00,441.99 L233.77,442.19 L234.54,442.08 L235.31,441.97 L236.08,442.21 L236.85,442.17 L237.62,442.69 L238.39,442.57 L239.16,442.38 L239.93,442.45 L240.70,441.99 L241.47,442.28 L242.24,442.25 L243.01,442.14 L243.78,441.86 L244.55,442.20 L245.32,441.93 L246.09,441.99 L246.86,442.18 L247.63,442.03 L248.40,442.00 L249.17,442.12 L249.93,442.06 L250.70,442.10 L251.47,442.04 L252.24,441.91 L253.01,441.68 L253.78,442.05 L254.55,441.66 L255.32,442.15 L256.09,442.09 L256.86,441.93 L257.63,441.90 L258.40,442.04 L259.17,442.03 L259.94,442.08 L260.71,442.11 L261.17,441.88" fill="none" stroke="#f5862c" stroke-width="1.1" stroke-linejoin="round" stroke-linecap="butt"/><path d="M39.83,468.22 L39.86,467.45 L39.92,465.92 L40.01,463.62 L40.14,460.55 L40.23,458.25 L40.29,456.71 L40.63,449.02 L41.03,446.98 L41.43,448.40 L41.83,448.57 L42.23,447.69 L42.63,449.25 L43.03,449.83 L43.43,449.61 L43.83,450.90 L44.23,449.68 L44.63,450.66 L45.03,450.76 L45.43,450.04 L45.83,448.38 L46.23,447.45 L46.63,444.38 L47.03,446.04 L47.43,446.02 L47.83,445.14 L48.23,445.72 L48.63,445.18 L49.03,445.07 L49.43,444.53 L49.83,446.39 L50.23,444.77 L50.63,445.12 L51.03,445.32 L51.43,446.17 L51.83,444.76 L52.23,448.08 L52.64,446.09 L53.04,447.18 L53.44,445.09 L53.84,444.48 L54.24,444.22 L54.64,444.05 L55.04,442.37 L55.44,444.28 L55.84,445.14 L56.24,445.63 L56.64,444.45 L57.04,446.34 L57.44,444.89 L57.84,445.83 L58.24,447.00 L58.64,447.52 L59.04,447.56 L59.44,448.38 L59.84,446.90 L60.24,446.29 L60.64,445.96 L61.04,447.12 L61.44,447.70 L61.84,446.36 L62.24,445.53 L62.64,445.36 L63.04,445.48 L63.44,447.19 L63.84,445.96 L64.24,445.17 L64.64,445.54 L65.04,445.09 L65.44,445.81 L65.84,445.21 L66.24,444.29 L66.64,442.56 L67.04,444.99 L67.44,444.83 L67.84,445.69 L68.24,445.17 L68.64,445.17 L69.04,444.22 L69.44,443.83 L69.84,444.51 L70.24,445.01 L70.64,443.98 L71.04,444.73 L71.44,443.79 L71.84,444.68 L72.25,444.27 L72.65,445.92 L73.05,446.95 L73.45,446.37 L73.85,447.34 L74.25,446.09 L74.65,446.77 L75.05,446.36 L75.45,447.52 L75.85,447.25 L76.25,446.95 L76.65,447.22 L77.05,445.46 L77.45,445.66 L77.85,445.90 L78.25,447.74 L78.65,446.01 L79.05,444.51 L79.45,445.69 L79.85,445.40 L80.25,447.80 L80.65,446.67 L81.05,446.98 L81.45,444.97 L81.85,444.53 L82.25,444.28 L82.65,444.44 L83.05,443.04 L83.45,444.66 L83.85,443.98 L84.25,443.07 L84.65,443.45 L85.05,443.38 L85.45,443.95 L85.85,443.56 L86.25,442.35 L86.65,444.46 L87.05,443.25 L87.45,443.19 L87.85,442.59 L88.25,440.58 L88.65,442.13 L89.05,441.00 L89.45,441.19 L89.85,443.93 L90.25,442.89 L90.65,443.10 L91.05,444.28 L91.45,443.42 L91.85,444.50 L92.26,444.37 L92.66,446.59 L93.06,446.17 L93.46,444.89 L93.86,446.12 L94.26,445.05 L94.66,445.50 L95.06,444.20 L95.46,443.54 L95.86,444.33 L96.26,444.72 L96.66,444.77 L97.06,444.81 L97.46,443.67 L97.86,442.06 L98.26,445.17 L98.66,445.79 L99.06,443.70 L99.46,445.41 L99.86,446.11 L100.26,442.81 L100.66,443.76 L101.06,443.75 L101.46,443.73 L101.86,442.43 L102.26,443.38 L102.66,440.71 L103.06,441.16 L103.46,442.19 L103.86,443.10 L104.26,442.89 L104.66,442.08 L105.06,440.49 L105.46,441.19 L105.86,443.11 L106.26,443.29 L106.66,442.70 L107.06,444.14 L107.46,444.07 L107.86,443.10 L108.26,443.18 L108.66,444.27 L109.06,445.28 L109.46,443.54 L109.86,443.24 L110.26,442.26 L110.66,442.66 L111.06,443.06 L111.46,441.70 L111.87,441.22 L112.27,443.86 L112.67,443.97 L113.07,442.32 L113.47,441.88 L113.87,441.73 L114.27,442.06 L114.67,439.62 L115.07,442.25 L115.47,442.26 L115.87,442.36 L116.27,442.30 L116.67,443.76 L117.07,442.74 L117.47,442.97 L117.87,441.28 L118.27,442.46 L118.67,443.97 L119.07,445.30 L119.47,444.52 L119.87,445.02 L120.27,445.00 L120.67,444.36 L121.07,444.32 L121.47,444.41 L121.87,443.37 L122.27,444.05 L122.67,442.15 L123.07,444.05 L123.47,445.21 L123.87,446.65 L124.27,446.98 L124.67,445.05 L125.07,444.78 L125.47,445.45 L125.87,445.85 L126.27,446.65 L126.67,446.28 L127.07,445.82 L127.47,447.59 L127.87,445.47 L128.27,447.33 L128.67,445.59 L129.07,445.35 L129.47,444.88 L129.87,445.54 L130.27,443.45 L130.67,443.66 L131.07,443.72 L131.47,444.43 L131.88,444.46 L132.28,443.49 L132.68,442.72 L133.08,442.32 L133.48,443.72 L133.88,444.20 L134.28,444.22 L134.68,444.93 L135.08,445.70 L135.48,445.24 L135.88,444.95 L136.28,444.96 L136.68,445.66 L137.08,446.56 L137.48,445.88 L137.88,445.90 L138.28,447.29 L138.68,446.09 L139.08,446.04 L139.48,446.92 L139.88,448.16 L140.28,448.32 L140.68,446.68 L141.08,446.95 L141.48,446.66 L141.88,447.23 L142.28,445.43 L142.68,447.30 L143.08,445.99 L143.48,445.08 L143.88,444.42 L144.28,445.39 L144.68,445.60 L145.08,445.12 L145.48,445.15 L145.88,445.42 L146.28,445.98 L146.68,443.95 L147.08,442.58 L147.48,443.72 L147.88,442.71 L148.28,442.53 L148.68,443.73 L149.08,443.26 L149.48,442.87 L149.88,442.04 L150.28,442.37 L150.68,444.18 L151.08,441.34 L151.49,441.81 L151.89,443.23 L152.29,444.13 L152.69,443.75 L153.09,443.12 L153.49,443.21 L153.89,444.91 L154.29,443.44 L154.69,440.76 L155.09,443.13 L155.49,441.92 L155.89,441.40 L156.29,443.39 L156.69,443.49 L157.09,442.56 L157.49,443.33 L157.89,443.24 L158.29,443.35 L158.69,445.76 L159.09,445.55 L159.49,444.70 L159.89,444.88 L160.29,444.25 L160.69,441.50 L161.09,443.94 L161.49,443.76 L161.89,443.93 L162.29,445.69 L162.69,444.96 L163.09,444.05 L163.49,443.91 L163.89,442.58 L164.29,442.34 L164.69,444.20 L165.09,443.37 L165.49,444.88 L165.89,444.82 L166.29,445.73 L166.69,447.16 L167.09,447.33 L167.49,448.46 L167.89,446.75 L168.29,445.98 L168.69,446.44 L169.09,447.72 L169.49,447.00 L169.89,449.19 L170.29,446.96 L170.69,445.43 L171.10,446.01 L171.50,447.20 L171.90,446.21 L172.30,446.56 L172.70,447.61 L173.10,448.03 L173.50,446.88 L173.90,446.10 L174.30,448.11 L174.70,443.35 L175.10,444.88 L175.50,443.50 L175.90,444.08 L176.30,442.89 L176.70,441.50 L177.10,443.60 L177.50,443.93 L177.90,443.03 L178.30,444.18 L178.70,442.68 L179.10,443.05 L179.50,444.21 L179.90,443.06 L180.30,443.65 L180.70,442.75 L181.10,441.24 L181.50,441.45 L181.90,443.69 L182.30,448.35 L182.70,446.67 L183.10,446.90 L183.50,448.08 L183.90,445.14 L184.30,445.52 L184.70,445.13 L185.10,444.39 L185.50,443.26 L185.90,444.90 L186.30,443.33 L186.70,444.27 L187.10,445.28 L187.50,444.73 L187.90,445.28 L188.30,444.95 L188.70,443.35 L189.10,446.07 L189.50,445.05 L189.90,444.84 L190.30,445.06 L190.70,445.28 L191.11,444.28 L191.51,445.19 L191.91,447.63 L192.31,447.06 L192.71,445.78 L193.11,444.26 L193.51,444.14 L193.91,446.66 L194.31,444.88 L194.71,444.77 L195.11,445.34 L195.51,445.51 L195.91,444.53 L196.31,444.52 L196.71,445.75 L197.11,446.20 L197.51,445.22 L197.91,443.29 L198.31,443.48 L198.71,443.97 L199.11,445.69 L199.51,445.97 L199.91,444.68 L200.31,444.17 L200.71,445.53 L201.11,445.35 L201.51,445.93 L201.91,445.87 L202.31,444.37 L202.71,445.14 L203.11,445.99 L203.51,446.68 L203.91,445.49 L204.31,445.18 L204.71,443.32 L205.11,444.81 L205.51,445.24 L205.91,443.77 L206.31,443.60 L206.71,443.65 L207.11,443.40 L207.51,443.79 L207.91,443.30 L208.31,442.40 L208.71,443.86 L209.11,442.34 L209.51,441.64 L209.91,442.86 L210.31,439.95 L210.72,439.96 L211.12,443.40 L211.52,442.19 L211.92,442.31 L212.32,444.29 L212.72,443.62 L213.12,444.57 L213.52,443.80 L213.92,445.55 L214.32,446.33 L214.72,444.08 L215.12,445.37 L215.52,445.30 L215.92,445.31 L216.32,445.87 L216.72,445.90 L217.12,444.67 L217.52,442.73 L217.92,443.31 L218.32,442.86 L218.72,443.31 L219.12,442.90 L219.52,443.52 L219.92,442.83 L220.32,441.97 L220.72,441.24 L221.12,441.42 L221.52,441.89 L221.92,440.69 L222.32,442.30 L222.72,442.94 L223.12,444.73 L223.52,443.29 L223.92,442.58 L224.32,441.99 L224.72,443.01 L225.12,441.05 L225.52,441.84 L225.92,443.94 L226.32,443.23 L226.72,443.43 L227.12,442.25 L227.52,443.14 L227.92,444.27 L228.32,443.55 L228.72,444.18 L229.12,445.53 L229.52,445.11 L229.92,444.08 L230.33,444.46 L230.73,442.86 L231.13,444.90 L231.53,445.03 L231.93,445.33 L232.33,444.36 L232.73,442.97 L233.13,443.87 L233.53,444.38 L233.93,443.22 L234.33,441.91 L234.73,443.36 L235.13,446.02 L235.53,446.45 L235.93,445.26 L236.33,445.39 L236.73,448.11 L237.13,446.77 L237.53,446.57 L237.93,448.71 L238.33,446.87 L238.73,447.95 L239.13,449.26 L239.53,447.90 L239.93,445.63 L240.33,444.03 L240.73,445.27 L241.13,444.08 L241.53,445.88 L241.93,444.80 L242.33,444.63 L242.73,443.16 L243.13,443.02 L243.53,442.56 L243.93,441.48 L244.33,443.29 L244.73,443.43 L245.13,442.64 L245.53,441.41 L245.93,439.94 L246.33,441.47 L246.73,441.59 L247.13,441.97 L247.53,442.19 L247.93,441.52 L248.33,441.89 L248.73,440.89 L249.13,441.58 L249.53,441.07 L249.93,440.53 L250.34,440.74 L250.74,442.25 L251.14,441.64 L251.54,441.26 L251.94,442.05 L252.34,440.75 L252.74,441.96 L253.14,442.72 L253.54,443.09 L253.94,442.41 L254.34,441.84 L254.74,442.59 L255.14,441.70 L255.54,440.59 L255.94,442.85 L256.34,442.11 L256.74,441.20 L257.14,442.78 L257.54,443.90 L257.94,442.51 L258.34,442.27 L258.74,443.21 L259.14,442.36 L259.54,442.28 L259.94,442.74 L260.34,442.17 L260.74,442.81 L261.14,442.21 L261.17,444.92" fill="none" stroke="#14a03c" stroke-width="1.1" stroke-linejoin="round" stroke-linecap="butt"/><path d="M39.83,457.32 L39.86,457.03 L39.92,456.45 L40.01,455.58 L40.14,454.43 L40.29,452.98 L41.06,449.49 L42.29,447.57 L43.52,447.06 L44.75,446.50 L45.99,446.22 L47.22,446.00 L48.45,445.86 L49.68,445.56 L50.91,445.41 L52.14,445.15 L53.37,444.86 L54.61,444.69 L55.84,444.49 L57.07,444.56 L58.30,444.56 L59.53,444.44 L60.76,444.39 L61.99,444.42 L63.23,444.34 L64.46,444.17 L65.69,444.18 L66.92,444.11 L68.15,444.08 L69.38,444.16 L70.61,444.25 L71.84,444.34 L73.08,444.44 L74.31,444.53 L75.54,444.66 L76.77,444.80 L78.00,444.97 L79.23,445.29 L80.46,445.32 L81.70,445.51 L82.93,445.75 L84.16,446.07 L85.39,446.19 L86.62,446.56 L87.85,446.65 L89.08,446.77 L90.32,446.85 L91.55,446.92 L92.78,446.94 L94.01,447.06 L95.24,447.21 L96.47,447.31 L97.70,447.53 L98.94,447.69 L100.17,447.87 L101.40,447.89 L102.63,447.87 L103.86,447.96 L105.09,448.02 L106.32,448.12 L107.56,448.04 L108.79,448.13 L110.02,448.16 L111.25,448.25 L112.48,448.28 L113.71,448.47 L114.94,448.45 L116.17,448.52 L117.41,448.44 L118.64,448.46 L119.87,448.57 L121.10,448.67 L122.33,448.76 L123.56,448.73 L124.79,448.82 L126.03,448.72 L127.26,448.89 L128.49,448.96 L129.72,449.05 L130.95,449.14 L132.18,449.09 L133.41,449.16 L134.65,449.09 L135.88,449.15 L137.11,449.34 L138.34,449.38 L139.57,449.37 L140.80,449.30 L142.03,449.41 L143.27,449.47 L144.50,449.60 L145.73,449.51 L146.96,449.72 L148.19,449.67 L149.42,449.69 L150.65,449.70 L151.89,449.71 L153.12,449.70 L154.35,449.79 L155.58,449.98 L156.81,449.87 L158.04,449.99 L159.27,449.96 L160.51,450.06 L161.74,450.05 L162.97,450.13 L164.20,450.21 L165.43,450.18 L166.66,450.41 L167.89,450.39 L169.12,450.37 L170.36,450.35 L171.59,450.42 L172.82,450.56 L174.05,450.49 L175.28,450.57 L176.51,450.50 L177.74,450.50 L178.98,450.54 L180.21,450.47 L181.44,450.47 L182.67,450.64 L183.90,450.79 L185.13,450.66 L186.36,450.55 L187.60,450.71 L188.83,450.74 L190.06,450.85 L191.29,450.90 L192.52,450.69 L193.75,450.77 L194.98,450.85 L196.22,450.90 L197.45,451.03 L198.68,451.00 L199.91,450.89 L201.14,450.88 L202.37,451.02 L203.60,451.13 L204.84,451.09 L206.07,451.13 L207.30,451.17 L208.53,451.25 L209.76,451.19 L210.99,451.23 L212.22,451.27 L213.45,451.30 L214.69,451.30 L215.92,451.41 L217.15,451.48 L218.38,451.63 L219.61,451.52 L220.84,451.38 L222.07,451.37 L223.31,451.46 L224.54,451.59 L225.77,451.62 L227.00,451.66 L228.23,451.63 L229.46,451.67 L230.69,451.66 L231.93,451.72 L233.16,451.83 L234.39,451.69 L235.62,451.84 L236.85,451.92 L238.08,451.94 L239.31,451.95 L240.55,451.88 L241.78,451.88 L243.01,451.95 L244.24,451.94 L245.47,451.83 L246.70,451.91 L247.93,451.97 L249.17,451.98 L250.40,452.11 L251.63,451.94 L252.86,451.95 L254.09,452.11 L255.32,452.13 L256.55,452.34 L257.79,452.28 L259.02,452.29 L260.25,452.29 L261.17,452.36" fill="none" stroke="#f0647a" stroke-width="1.1" stroke-linejoin="round" stroke-linecap="butt"/><rect x="191.7" y="389.3" width="77.70" height="37.70" rx="1.5" fill="#fff" fill-opacity="0.85" stroke="#e6e6e6" stroke-width="0.8"/><line x1="195.9" y1="394.7" x2="205.6" y2="394.7" stroke="#4a9ed8" stroke-width="1.4"/><text transform="translate(213.20,397.20) scale(1,1.1)">MIC_KNN</text><line x1="195.9" y1="403.7" x2="205.6" y2="403.7" stroke="#ffb078" stroke-width="1.4"/><text transform="translate(213.20,406.20) scale(1,1.1)">MIC_RF</text><line x1="195.9" y1="412.4" x2="205.6" y2="412.4" stroke="#5cc480" stroke-width="1.4"/><text transform="translate(213.20,414.90) scale(1,1.1)">MIC_XGBoost</text><line x1="195.9" y1="421.0" x2="205.6" y2="421.0" stroke="#f27488" stroke-width="1.4"/><text transform="translate(213.20,423.50) scale(1,1.1)">MIC_SVM</text><rect x="28.9" y="387.3" width="243.20" height="144.50" fill="none" stroke="#969696" stroke-width="1.1"/><line x1="27.60" y1="531.80" x2="28.9" y2="531.80" stroke="#555" stroke-width="0.8"/><text transform="translate(27.10,534.90) scale(1,1.14)" text-anchor="end" class="tk">0.0</text><line x1="27.60" y1="505.53" x2="28.9" y2="505.53" stroke="#555" stroke-width="0.8"/><text transform="translate(27.10,508.63) scale(1,1.14)" text-anchor="end" class="tk">0.2</text><line x1="27.60" y1="479.25" x2="28.9" y2="479.25" stroke="#555" stroke-width="0.8"/><text transform="translate(27.10,482.35) scale(1,1.14)" text-anchor="end" class="tk">0.4</text><line x1="27.60" y1="452.98" x2="28.9" y2="452.98" stroke="#555" stroke-width="0.8"/><text transform="translate(27.10,456.08) scale(1,1.14)" text-anchor="end" class="tk">0.6</text><line x1="27.60" y1="426.71" x2="28.9" y2="426.71" stroke="#555" stroke-width="0.8"/><text transform="translate(27.10,429.81) scale(1,1.14)" text-anchor="end" class="tk">0.8</text><line x1="27.60" y1="400.44" x2="28.9" y2="400.44" stroke="#555" stroke-width="0.8"/><text transform="translate(27.10,403.54) scale(1,1.14)" text-anchor="end" class="tk">1.0</text><line x1="39.83" y1="531.8" x2="39.83" y2="533.10" stroke="#555" stroke-width="0.8"/><text transform="translate(39.83,539.90) scale(1,1.14)" text-anchor="middle" class="tk">0</text><line x1="70.61" y1="531.8" x2="70.61" y2="533.10" stroke="#555" stroke-width="0.8"/><text transform="translate(70.61,539.90) scale(1,1.14)" text-anchor="middle" class="tk">1000</text><line x1="101.40" y1="531.8" x2="101.40" y2="533.10" stroke="#555" stroke-width="0.8"/><text transform="translate(101.40,539.90) scale(1,1.14)" text-anchor="middle" class="tk">2000</text><line x1="132.18" y1="531.8" x2="132.18" y2="533.10" stroke="#555" stroke-width="0.8"/><text transform="translate(132.18,539.90) scale(1,1.14)" text-anchor="middle" class="tk">3000</text><line x1="162.97" y1="531.8" x2="162.97" y2="533.10" stroke="#555" stroke-width="0.8"/><text transform="translate(162.97,539.90) scale(1,1.14)" text-anchor="middle" class="tk">4000</text><line x1="193.75" y1="531.8" x2="193.75" y2="533.10" stroke="#555" stroke-width="0.8"/><text transform="translate(193.75,539.90) scale(1,1.14)" text-anchor="middle" class="tk">5000</text><line x1="224.54" y1="531.8" x2="224.54" y2="533.10" stroke="#555" stroke-width="0.8"/><text transform="translate(224.54,539.90) scale(1,1.14)" text-anchor="middle" class="tk">6000</text><line x1="255.32" y1="531.8" x2="255.32" y2="533.10" stroke="#555" stroke-width="0.8"/><text transform="translate(255.32,539.90) scale(1,1.14)" text-anchor="middle" class="tk">7000</text><text transform="translate(153.50,384.00) scale(1,1.1)" text-anchor="middle">Test_MIC_Regress</text><text transform="translate(152.10,548.40) scale(1,1.1)" text-anchor="middle">Number of SNPs</text><text transform="translate(10.20,456.95) rotate(-90) scale(1,1.1)" text-anchor="middle" xml:space="preserve">Pearson  Correlation</text></g>
<g><path d="M311.53,439.32 L311.56,438.66 L311.62,437.33 L311.71,435.34 L311.84,432.69 L311.99,429.37 L312.30,425.46 L313.07,422.91 L313.84,421.56 L314.61,420.46 L315.38,420.48 L316.15,420.44 L316.92,420.65 L317.69,420.19 L318.46,420.20 L319.22,420.03 L319.99,420.18 L320.76,420.19 L321.53,420.07 L322.30,419.82 L323.07,419.50 L323.84,419.27 L324.61,418.90 L325.38,418.99 L326.15,418.70 L326.92,418.72 L327.69,418.96 L328.46,419.15 L329.23,419.77 L330.00,420.13 L330.77,420.63 L331.54,420.18 L332.31,420.15 L333.08,420.08 L333.85,419.99 L334.62,420.29 L335.39,420.49 L336.16,420.60 L336.93,420.46 L337.70,420.52 L338.47,420.36 L339.23,420.49 L340.00,420.50 L340.77,420.31 L341.54,420.15 L342.31,420.18 L343.08,420.51 L343.85,420.08 L344.62,420.42 L345.39,420.40 L346.16,420.46 L346.93,420.50 L347.70,420.25 L348.47,419.95 L349.24,420.07 L350.01,420.25 L350.78,420.24 L351.55,420.17 L352.32,419.92 L353.09,420.23 L353.86,420.38 L354.63,420.65 L355.40,420.44 L356.17,420.60 L356.94,420.17 L357.71,419.71 L358.48,419.60 L359.25,419.38 L360.01,419.96 L360.78,419.70 L361.55,419.52 L362.32,419.67 L363.09,420.61 L363.86,420.19 L364.63,419.80 L365.40,418.92 L366.17,418.92 L366.94,419.04 L367.71,419.36 L368.48,419.24 L369.25,418.79 L370.02,418.64 L370.79,419.00 L371.56,419.51 L372.33,419.37 L373.10,418.80 L373.87,419.38 L374.64,419.36 L375.41,419.29 L376.18,419.59 L376.95,419.92 L377.72,419.97 L378.49,420.03 L379.26,420.02 L380.02,420.25 L380.79,420.47 L381.56,420.35 L382.33,420.98 L383.10,420.65 L383.87,420.65 L384.64,420.87 L385.41,421.41 L386.18,421.64 L386.95,421.43 L387.72,421.69 L388.49,421.69 L389.26,422.21 L390.03,422.38 L390.80,421.90 L391.57,421.84 L392.34,421.35 L393.11,421.97 L393.88,422.31 L394.65,422.44 L395.42,422.64 L396.19,422.58 L396.96,423.02 L397.73,423.49 L398.50,423.39 L399.27,424.30 L400.03,424.89 L400.80,424.67 L401.57,424.38 L402.34,424.24 L403.11,424.30 L403.88,425.10 L404.65,425.33 L405.42,425.61 L406.19,425.86 L406.96,426.69 L407.73,427.16 L408.50,427.02 L409.27,426.78 L410.04,426.88 L410.81,426.95 L411.58,426.81 L412.35,426.83 L413.12,426.71 L413.89,426.97 L414.66,425.96 L415.43,426.36 L416.20,426.62 L416.97,426.84 L417.74,427.25 L418.51,427.54 L419.28,427.47 L420.05,427.37 L420.81,428.11 L421.58,428.43 L422.35,428.55 L423.12,428.82 L423.89,429.40 L424.66,430.52 L425.43,430.44 L426.20,430.95 L426.97,431.13 L427.74,431.61 L428.51,431.99 L429.28,432.13 L430.05,432.64 L430.82,432.42 L431.59,432.77 L432.36,432.76 L433.13,433.10 L433.90,433.35 L434.67,433.87 L435.44,434.20 L436.21,434.92 L436.98,434.81 L437.75,435.09 L438.52,435.27 L439.29,436.41 L440.06,437.09 L440.82,437.33 L441.59,437.23 L442.36,437.66 L443.13,438.20 L443.90,438.73 L444.67,439.09 L445.44,439.41 L446.21,439.25 L446.98,439.20 L447.75,439.65 L448.52,439.54 L449.29,439.19 L450.06,439.50 L450.83,439.91 L451.60,439.72 L452.37,439.86 L453.14,439.56 L453.91,439.68 L454.68,439.68 L455.45,439.77 L456.22,439.83 L456.99,440.02 L457.76,440.13 L458.53,440.22 L459.30,440.67 L460.07,440.67 L460.83,440.91 L461.60,441.10 L462.37,441.17 L463.14,441.42 L463.91,441.73 L464.68,442.15 L465.45,442.39 L466.22,442.59 L466.99,442.94 L467.76,442.95 L468.53,443.04 L469.30,443.27 L470.07,443.57 L470.84,443.93 L471.61,444.02 L472.38,444.27 L473.15,444.21 L473.92,444.54 L474.69,444.47 L475.46,444.55 L476.23,444.55 L477.00,444.67 L477.77,444.72 L478.54,444.86 L479.31,444.80 L480.08,444.93 L480.85,444.85 L481.61,445.07 L482.38,445.01 L483.15,445.19 L483.92,445.29 L484.69,445.36 L485.46,445.48 L486.23,445.61 L487.00,445.56 L487.77,445.71 L488.54,445.62 L489.31,445.51 L490.08,445.63 L490.85,445.56 L491.62,445.63 L492.39,445.57 L493.16,445.46 L493.93,445.48 L494.70,445.43 L495.47,445.18 L496.24,445.31 L497.01,445.27 L497.78,445.46 L498.55,445.37 L499.32,445.41 L500.09,445.41 L500.86,445.14 L501.62,445.06 L502.39,445.16 L503.16,445.18 L503.93,445.15 L504.70,445.00 L505.47,445.05 L506.24,445.00 L507.01,445.13 L507.78,444.98 L508.55,444.90 L509.32,444.92 L510.09,444.92 L510.86,445.13 L511.63,445.23 L512.40,445.49 L513.17,445.65 L513.94,445.48 L514.71,445.31 L515.48,444.93 L516.25,444.76 L517.02,444.53 L517.79,444.28 L518.56,444.35 L519.33,444.47 L520.10,444.92 L520.87,445.14 L521.63,445.38 L522.40,445.41 L523.17,445.51 L523.94,445.57 L524.71,445.52 L525.48,445.56 L526.25,445.65 L527.02,445.71 L527.79,445.75 L528.56,445.92 L529.33,445.76 L530.10,445.92 L530.87,445.89 L531.64,446.03 L532.41,446.28 L532.87,446.14" fill="none" stroke="#2590c8" stroke-width="1.3" stroke-linejoin="round" stroke-linecap="butt"/><path d="M311.53,413.57 L311.56,412.78 L311.62,411.21 L311.71,408.84 L311.84,405.69 L311.99,405.17 L314.61,403.26 L317.69,403.27 L320.76,403.32 L323.84,403.25 L326.92,403.31 L330.00,403.25 L333.08,403.28 L336.16,403.28 L339.23,403.26 L342.31,403.31 L345.39,403.35 L348.47,403.35 L351.55,403.38 L354.63,403.43 L357.71,403.34 L360.78,403.28 L363.86,403.28 L366.94,403.33 L370.02,403.35 L373.10,403.28 L376.18,403.24 L379.26,403.28 L382.33,403.23 L385.41,403.29 L388.49,403.31 L391.57,403.36 L394.65,403.41 L397.73,403.39 L400.80,403.38 L403.88,403.36 L406.96,403.29 L410.04,403.31 L413.12,403.29 L416.20,403.32 L419.28,403.29 L422.35,403.26 L425.43,403.28 L428.51,403.22 L431.59,403.23 L434.67,403.28 L437.75,403.28 L440.82,403.41 L443.90,403.40 L446.98,403.28 L450.06,403.25 L453.14,403.21 L456.22,403.23 L459.30,403.28 L462.37,403.30 L465.45,403.31 L468.53,403.33 L471.61,403.30 L474.69,403.33 L477.77,403.32 L480.85,403.29 L483.92,403.35 L487.00,403.38 L490.08,403.30 L493.16,403.37 L496.24,403.37 L499.32,403.32 L502.39,403.33 L505.47,403.35 L508.55,403.41 L511.63,403.32 L514.71,403.33 L517.79,403.33 L520.87,403.31 L523.94,403.25 L527.02,403.28 L530.10,403.32 L532.87,403.31" fill="none" stroke="#ffb27c" stroke-width="1.4" stroke-linejoin="round" stroke-linecap="butt"/><path d="M311.53,423.16 L311.56,421.14 L311.62,417.10 L311.71,411.04 L311.84,406.24 L311.99,404.32 L314.61,400.65 L317.69,400.52 L320.76,400.64 L323.84,400.62 L326.92,400.61 L330.00,400.62 L333.08,400.60 L336.16,400.61 L339.23,400.55 L342.31,400.65 L345.39,400.53 L348.47,400.60 L351.55,400.50 L354.63,400.45 L357.71,400.40 L360.78,400.46 L363.86,400.52 L366.94,400.56 L370.02,400.51 L373.10,400.55 L376.18,400.57 L379.26,400.55 L382.33,400.65 L385.41,400.72 L388.49,400.62 L391.57,400.60 L394.65,400.56 L397.73,400.52 L400.80,400.58 L403.88,400.60 L406.96,400.54 L410.04,400.60 L413.12,400.56 L416.20,400.58 L419.28,400.61 L422.35,400.62 L425.43,400.59 L428.51,400.60 L431.59,400.62 L434.67,400.54 L437.75,400.52 L440.82,400.57 L443.90,400.55 L446.98,400.52 L450.06,400.55 L453.14,400.59 L456.22,400.63 L459.30,400.59 L462.37,400.61 L465.45,400.57 L468.53,400.59 L471.61,400.58 L474.69,400.51 L477.77,400.50 L480.85,400.50 L483.92,400.51 L487.00,400.52 L490.08,400.46 L493.16,400.48 L496.24,400.51 L499.32,400.52 L502.39,400.50 L505.47,400.53 L508.55,400.57 L511.63,400.48 L514.71,400.53 L517.79,400.52 L520.87,400.59 L523.94,400.56 L527.02,400.54 L530.10,400.54 L532.87,400.62" fill="none" stroke="#49bc6a" stroke-width="1.3" stroke-linejoin="round" stroke-linecap="butt"/><path d="M311.53,450.75 L311.56,449.99 L311.62,448.46 L311.71,446.18 L311.84,443.13 L311.99,439.32 L313.38,437.55 L315.22,437.32 L317.07,436.94 L318.92,436.68 L320.76,436.39 L322.61,436.32 L324.46,436.32 L326.31,436.26 L328.15,436.20 L330.00,436.12 L331.85,436.03 L333.69,435.96 L335.54,436.00 L337.39,435.85 L339.23,436.02 L341.08,436.04 L342.93,436.06 L344.78,436.01 L346.62,436.02 L348.47,436.13 L350.32,436.15 L352.16,436.10 L354.01,436.22 L355.86,436.39 L357.71,436.43 L359.55,436.56 L361.40,436.62 L363.25,436.68 L365.09,436.75 L366.94,436.82 L368.79,436.85 L370.64,436.89 L372.48,436.94 L374.33,437.01 L376.18,437.05 L378.02,437.06 L379.87,437.12 L381.72,437.15 L383.57,437.22 L385.41,437.31 L387.26,437.37 L389.11,437.30 L390.95,437.32 L392.80,437.38 L394.65,437.49 L396.49,437.56 L398.34,437.55 L400.19,437.56 L402.04,437.69 L403.88,437.83 L405.73,437.86 L407.58,437.81 L409.42,437.92 L411.27,437.82 L413.12,437.85 L414.97,437.87 L416.81,437.95 L418.66,438.03 L420.51,438.17 L422.35,438.16 L424.20,438.19 L426.05,438.22 L427.90,438.20 L429.74,438.30 L431.59,438.31 L433.44,438.34 L435.28,438.42 L437.13,438.52 L438.98,438.47 L440.82,438.45 L442.67,438.55 L444.52,438.64 L446.37,438.68 L448.21,438.71 L450.06,438.68 L451.91,438.72 L453.75,438.82 L455.60,438.81 L457.45,438.75 L459.30,438.58 L461.14,438.54 L462.99,438.65 L464.84,438.59 L466.68,438.54 L468.53,438.54 L470.38,438.52 L472.23,438.36 L474.07,438.27 L475.92,438.36 L477.77,438.23 L479.61,438.20 L481.46,438.19 L483.31,438.17 L485.15,438.16 L487.00,438.02 L488.85,437.97 L490.70,437.92 L492.54,437.95 L494.39,437.93 L496.24,437.84 L498.08,437.84 L499.93,437.78 L501.78,437.78 L503.63,437.63 L505.47,437.73 L507.32,437.66 L509.17,437.63 L511.01,437.69 L512.86,437.58 L514.71,437.49 L516.56,437.40 L518.40,437.32 L520.25,437.38 L522.10,437.39 L523.94,437.31 L525.79,437.26 L527.64,437.32 L529.49,437.24 L531.33,437.19 L532.87,437.09" fill="none" stroke="#f58090" stroke-width="1.4" stroke-linejoin="round" stroke-linecap="butt"/><rect x="463.3" y="490.5" width="77.70" height="38.30" rx="1.5" fill="#fff" fill-opacity="0.85" stroke="#e6e6e6" stroke-width="0.8"/><line x1="468.0" y1="495.5" x2="477.1" y2="495.5" stroke="#4a9ed8" stroke-width="1.6"/><text transform="translate(484.70,498.00) scale(1,1.1)">MIC_KNN</text><line x1="468.0" y1="504.6" x2="477.1" y2="504.6" stroke="#ffb27a" stroke-width="1.6"/><text transform="translate(484.70,507.10) scale(1,1.1)">MIC_RF</text><line x1="468.0" y1="513.8" x2="477.1" y2="513.8" stroke="#4cc070" stroke-width="1.6"/><text transform="translate(484.70,516.30) scale(1,1.1)">MIC_XGBoost</text><line x1="468.0" y1="522.8" x2="477.1" y2="522.8" stroke="#f2707f" stroke-width="1.6"/><text transform="translate(484.70,525.30) scale(1,1.1)">MIC_SVM</text><rect x="300.6" y="387.3" width="243.20" height="144.50" fill="none" stroke="#969696" stroke-width="1.1"/><line x1="299.30" y1="531.80" x2="300.6" y2="531.80" stroke="#555" stroke-width="0.8"/><text transform="translate(298.80,534.90) scale(1,1.14)" text-anchor="end" class="tk">0.0</text><line x1="299.30" y1="505.53" x2="300.6" y2="505.53" stroke="#555" stroke-width="0.8"/><text transform="translate(298.80,508.63) scale(1,1.14)" text-anchor="end" class="tk">0.2</text><line x1="299.30" y1="479.25" x2="300.6" y2="479.25" stroke="#555" stroke-width="0.8"/><text transform="translate(298.80,482.35) scale(1,1.14)" text-anchor="end" class="tk">0.4</text><line x1="299.30" y1="452.98" x2="300.6" y2="452.98" stroke="#555" stroke-width="0.8"/><text transform="translate(298.80,456.08) scale(1,1.14)" text-anchor="end" class="tk">0.6</text><line x1="299.30" y1="426.71" x2="300.6" y2="426.71" stroke="#555" stroke-width="0.8"/><text transform="translate(298.80,429.81) scale(1,1.14)" text-anchor="end" class="tk">0.8</text><line x1="299.30" y1="400.44" x2="300.6" y2="400.44" stroke="#555" stroke-width="0.8"/><text transform="translate(298.80,403.54) scale(1,1.14)" text-anchor="end" class="tk">1.0</text><line x1="311.53" y1="531.8" x2="311.53" y2="533.10" stroke="#555" stroke-width="0.8"/><text transform="translate(311.53,539.90) scale(1,1.14)" text-anchor="middle" class="tk">0</text><line x1="342.31" y1="531.8" x2="342.31" y2="533.10" stroke="#555" stroke-width="0.8"/><text transform="translate(342.31,539.90) scale(1,1.14)" text-anchor="middle" class="tk">1000</text><line x1="373.10" y1="531.8" x2="373.10" y2="533.10" stroke="#555" stroke-width="0.8"/><text transform="translate(373.10,539.90) scale(1,1.14)" text-anchor="middle" class="tk">2000</text><line x1="403.88" y1="531.8" x2="403.88" y2="533.10" stroke="#555" stroke-width="0.8"/><text transform="translate(403.88,539.90) scale(1,1.14)" text-anchor="middle" class="tk">3000</text><line x1="434.67" y1="531.8" x2="434.67" y2="533.10" stroke="#555" stroke-width="0.8"/><text transform="translate(434.67,539.90) scale(1,1.14)" text-anchor="middle" class="tk">4000</text><line x1="465.45" y1="531.8" x2="465.45" y2="533.10" stroke="#555" stroke-width="0.8"/><text transform="translate(465.45,539.90) scale(1,1.14)" text-anchor="middle" class="tk">5000</text><line x1="496.24" y1="531.8" x2="496.24" y2="533.10" stroke="#555" stroke-width="0.8"/><text transform="translate(496.24,539.90) scale(1,1.14)" text-anchor="middle" class="tk">6000</text><line x1="527.02" y1="531.8" x2="527.02" y2="533.10" stroke="#555" stroke-width="0.8"/><text transform="translate(527.02,539.90) scale(1,1.14)" text-anchor="middle" class="tk">7000</text><text transform="translate(426.80,384.00) scale(1,1.1)" text-anchor="middle">Train_MIC_Regress</text><text transform="translate(423.80,548.40) scale(1,1.1)" text-anchor="middle">Number of SNPs</text><text transform="translate(285.25,458.65) rotate(-90) scale(1,1.1)" text-anchor="middle" xml:space="preserve">Pearson  Correlation</text></g>
</svg>
</body></html>
